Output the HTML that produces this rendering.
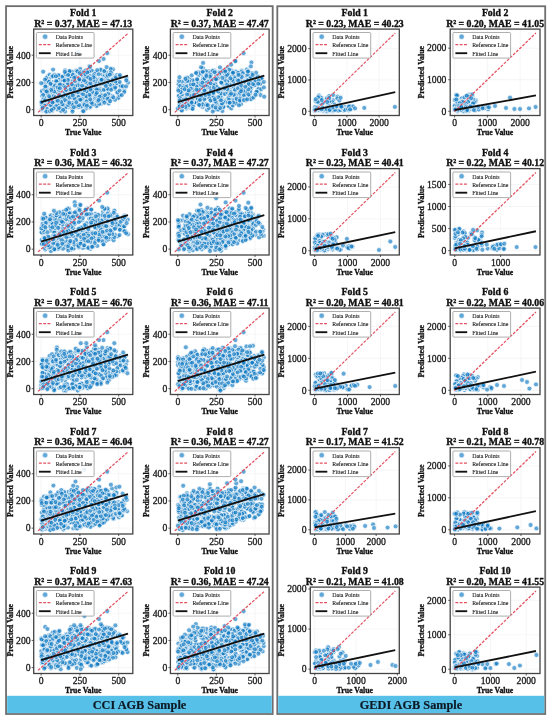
<!DOCTYPE html>
<html><head><meta charset="utf-8"><title>AGB cross-validation</title><style>
html,body{margin:0;padding:0;background:#fff;}
svg{display:block;}
text{font-family:'Liberation Serif', 'Times New Roman', serif;fill:#1a1a1a;}
.t{font-size:9.8px;font-weight:bold;text-anchor:middle;fill:#111;stroke:#111;stroke-width:0.35px;}
.k{font-size:9.7px;text-anchor:middle;fill:#1a1a1a;stroke:#1a1a1a;stroke-width:0.3px;}
.a{font-size:7.8px;font-weight:bold;text-anchor:middle;fill:#111;stroke:#111;stroke-width:0.3px;}
.sc{fill:none;stroke:none;marker-start:url(#m);marker-mid:url(#m);marker-end:url(#m);}
.ke{text-anchor:end;}
.l{font-size:5.9px;fill:#1a1a1a;stroke:#1a1a1a;stroke-width:0.1px;}
.b{font-size:12.3px;font-weight:bold;text-anchor:middle;fill:#0d1a26;stroke:#0d1a26;stroke-width:0.2px;}
</style></head>
<body><svg width="550" height="719" viewBox="0 0 550 719">
<defs><marker id="m" markerUnits="userSpaceOnUse" markerWidth="8" markerHeight="8" refX="4" refY="4" overflow="visible"><circle cx="4" cy="4" r="2.45" fill="#0f79c2" fill-opacity="0.66" stroke="#fff" stroke-opacity="0.9" stroke-width="0.7"/></marker></defs>
<rect width="550" height="719" fill="#fff"/>
<rect x="6.05" y="6.15" width="266.65" height="707.85" fill="none" stroke="#6e6e6e" stroke-width="1.8"/>
<rect x="277.3" y="6.25" width="267.9" height="707.75" fill="none" stroke="#6e6e6e" stroke-width="1.8"/>
<rect x="7.15" y="695.8" width="264.65" height="17.3" fill="#57c0e8"/>
<rect x="278.2" y="695.8" width="266.1" height="17.3" fill="#57c0e8"/>
<text x="139.5" y="709.2" class="b">CCI AGB Sample</text>
<text x="411" y="709.2" class="b">GEDI AGB Sample</text>
<text x="83.25" y="16.3" class="t">Fold 1</text>
<text x="83.25" y="26.5" class="t">R² = 0.37, MAE = 47.13</text>
<clipPath id="cp00"><rect x="33.7" y="29.1" width="99.1" height="86.4"/></clipPath>
<path d="M41.14 29.1V115.5M79.92 29.1V115.5M118.69 29.1V115.5M33.7 109.65H132.8M33.7 82.44H132.8M33.7 55.22H132.8" stroke="#f0f0f0" stroke-width="0.6" fill="none"/>
<g clip-path="url(#cp00)"><path class="sc" d="M86.4 70.3 93.6 101.4 82.0 103.7 58.8 94.1 87.1 88.3 57.7 78.5 65.6 92.5 106.6 74.6 89.1 70.0 111.1 80.4 62.7 107.7 57.6 97.7 99.3 86.2 65.5 76.0 58.9 97.3 95.4 93.6 97.8 105.2 54.5 87.6 101.9 82.7 80.0 86.6 42.7 106.7 66.4 96.6 74.3 85.4 69.0 72.3 102.2 74.0 53.0 82.2 71.0 71.1 111.7 71.8 54.0 74.6 46.3 88.6 68.5 107.0 77.6 93.6 111.3 86.4 42.0 92.0 80.6 87.5 89.7 90.2 41.4 102.3 67.0 90.3 45.8 97.5 90.4 80.9 104.0 76.2 88.4 83.0 74.1 88.1 93.6 86.3 104.9 96.5 118.6 98.1 86.3 96.7 59.2 75.6 67.1 79.5 113.7 76.7 57.2 90.1 57.1 105.8 61.6 108.5 98.3 91.8 86.0 86.0 112.7 96.3 57.6 109.4 75.3 85.7 80.5 107.0 65.0 97.3 69.2 90.0 95.6 97.9 78.6 70.7 47.8 76.3 49.7 74.8 46.9 87.2 102.6 74.8 76.1 90.8 84.8 71.3 62.2 109.5 101.8 96.1 57.9 93.1 99.8 79.3 105.5 86.5 78.8 84.1 95.0 73.3 87.1 72.5 98.5 95.0 52.6 106.2 102.6 102.3 71.3 106.5 77.2 85.3 65.1 70.4 81.4 106.2 79.4 70.8 50.5 93.7 90.4 71.2 60.2 98.8 74.4 78.3 110.8 97.5 70.3 76.1 54.4 93.9 98.2 95.4 63.0 108.9 56.1 80.7 76.7 102.3 82.1 75.0 52.9 85.9 88.7 98.7 58.9 90.9 108.7 103.6 88.6 96.2 96.3 72.8 47.1 81.4 124.2 90.4 58.5 93.3 65.8 85.8 72.7 109.5 79.6 95.7 77.7 93.4 45.4 103.2 79.1 95.2 56.0 84.6 72.5 85.2 100.2 92.2 100.5 88.6 48.0 94.7 48.5 104.3 89.8 90.3 51.8 76.4 108.1 76.9 84.8 92.5 92.4 87.8 100.1 95.1 98.8 83.2 106.5 85.5 91.8 70.6 81.9 94.4 95.2 95.0 92.1 89.1 52.3 110.8 111.7 74.1 74.4 75.2 87.2 104.2 99.3 82.3 73.8 91.2 73.5 76.1 117.7 92.1 99.6 83.2 54.0 92.8 92.4 93.9 89.7 107.5 89.6 103.2 110.8 85.6 58.2 91.8 47.1 111.3 98.8 98.9 73.7 92.4 76.9 92.6 99.8 88.6 116.8 75.1 102.9 90.1 60.0 85.1 64.4 84.6 71.7 71.6 84.6 101.0 102.6 81.2 67.9 85.1 53.5 90.2 66.3 107.0 57.7 101.0 90.1 96.0 94.3 84.8 88.4 75.3 72.4 81.2 76.8 104.7 105.0 97.5 99.7 81.7 49.7 89.4 59.7 96.5 98.5 90.4 80.9 80.6 56.9 87.5 54.4 106.9 59.5 79.5 81.8 75.4 104.8 74.1 42.0 91.0 60.6 88.8 65.1 101.1 109.0 74.7 81.8 74.5 65.1 96.6 69.4 91.2 95.1 82.7 85.4 96.9 105.6 89.9 76.4 99.1 52.2 96.4 109.6 96.7 94.8 92.3 100.0 70.2 50.2 90.5 44.9 109.4 91.8 101.1 54.7 102.2 106.4 94.7 42.2 95.9 71.9 72.0 58.4 86.9 98.9 90.8 109.9 95.5 101.0 84.0 91.9 104.7 90.1 100.7 86.1 95.9 101.0 103.8 89.0 97.2 91.5 85.9 44.6 107.7 81.6 98.6 62.3 101.9 78.0 99.9 110.2 71.1 45.2 94.0 53.7 105.2 81.4 81.0 44.4 90.0 100.4 96.7 116.5 86.0 94.6 73.8 62.6 105.2 87.4 73.4 52.5 87.9 108.6 96.5 94.8 97.8 81.0 97.9 126.3 78.6 55.4 92.9 63.2 84.9 51.5 85.2 97.3 99.9 58.3 105.0 52.2 76.9 44.0 83.2 87.2 93.2 107.3 84.6 96.9 94.9 105.8 100.6 46.4 88.9 96.2 95.1 73.5 105.2 49.0 98.6 55.5 97.4 64.6 92.3 75.7 96.8 58.5 88.8 45.7 91.6 70.6 86.9 95.7 96.4 117.2 82.8 71.9 104.3 107.4 73.9 47.3 82.2 74.1 87.8 111.2 69.9 42.6 110.4 44.5 97.6 58.3 98.0 86.2 99.0 59.4 82.3 91.8 78.6 86.2 86.5 45.1 109.7 112.6 83.3 109.5 97.7 127.9 82.7 52.3 88.3 100.9 90.5 43.1 108.0 44.0 97.7 45.2 107.9 48.8 79.1 61.2 98.2 89.0 71.6 62.3 76.8 100.0 82.3 58.3 75.3 65.3 107.5 62.1 110.1 107.9 90.2 45.1 86.3 109.3 89.4 119.1 95.0 102.2 83.2 101.1 101.2 70.9 76.3 76.8 104.9 72.1 102.7 95.7 88.5 80.2 69.0 115.7 76.7 52.9 88.6 53.2 84.7 110.0 101.3 112.9 69.3 111.2 81.5 84.0 87.1 42.5 108.3 55.7 101.5 62.7 95.9 104.7 74.3 99.0 89.8 87.8 98.7 119.4 84.3 96.4 106.0 80.9 92.8 106.0 80.1 51.6 91.6 100.8 69.8 66.9 90.8 123.1 86.6 44.2 104.1 52.2 106.0 89.9 96.3 78.2 86.3 85.5 82.2 119.4 76.4 43.2 99.4 104.8 70.7 57.1 81.8 86.3 95.7 120.8 86.2 106.6 72.8 97.8 89.3 70.6 95.4 78.5 97.0 74.1 93.1 77.3 90.0 64.9 81.6 88.2 83.8 114.9 88.8 95.5 81.9 79.4 71.6 80.2 87.5 46.1 101.6 76.4 70.7 63.3 80.0 52.6 85.2 77.9 92.1 41.8 105.0 51.8 100.8 113.0 84.0 86.0 88.1 72.7 95.3 100.8 96.6 56.5 92.0 66.3 90.0 85.8 108.6 73.0 98.1 95.7 94.8 86.9 91.2 47.1 79.7 90.7 101.9 72.8 74.7 116.5 83.1 68.3 102.1 90.5 106.6 56.3 81.2 111.7 98.9 63.2 80.6 82.3 98.8 65.6 97.2 79.1 99.9 118.2 97.8 99.2 103.8 63.0 100.8 53.0 102.6 72.1 90.3 63.5 102.3 53.1 76.1 61.1 110.9 47.8 80.7 88.6 79.6 103.3 100.6 68.0 83.4 68.0 74.6 43.3 94.7 104.3 76.6 50.9 83.5 94.1 104.4 103.9 89.7 47.5 92.9 84.5 77.7 119.6 95.2 110.1 75.4 89.7 75.9 81.0 99.9 78.3 107.0 108.3 93.6 94.8 76.3 106.4 77.1 104.4 102.7 86.6 101.5 86.5 104.4 44.5 89.6 41.8 109.2 52.2 87.9 124.2 92.1 107.7 97.4 86.2 96.3 109.2 99.0 77.4 71.4 62.5 76.8 67.6 100.0 110.7 81.0 53.2 108.6 74.6 98.6 111.3 88.1 92.5 104.0 111.4 82.0 71.9 104.7 102.4 79.0 76.0 87.1 117.3 92.5 97.2 70.2 83.9 111.1 44.6 101.2 86.4 78.4 66.4 72.6 60.3 84.6 41.8 101.6 82.9 72.4 76.4 106.2 84.1 104.3 55.2 87.8 68.1 80.0 109.9 84.7 68.0 105.1 97.8 101.2 108.5 89.4 119.7 81.9 92.7 92.3 86.0 76.3 110.9 73.9 64.6 80.5 46.3 78.1 122.7 86.2 75.7 77.0 46.8 108.7 113.0 81.3 104.2 84.1 65.9 89.8 85.4 74.2 87.3 72.4 101.9 80.0 103.6 80.1 119.9 75.1 101.6 95.4 46.3 111.6 58.2 105.5 56.3 88.3 79.0 105.3 58.0 85.4 62.8 96.8 60.2 107.5 85.6 81.7 56.6 85.4 48.6 100.2 55.3 88.4 58.7 90.9 53.5 89.6 95.9 94.2 89.6 78.3 56.1 106.2 115.4 81.3 110.6 68.8 78.6 81.0 69.7 71.2 62.8 85.4 54.1 86.9 64.8 100.0 55.1 85.5 65.0 111.6 75.0 81.3 45.5 86.7 95.9 79.6 107.4 74.5 58.9 90.1 58.9 108.2 95.7 85.8 65.3 87.4 88.2 77.4 83.1 94.3 45.7 91.0 107.9 75.7 53.6 96.3 93.5 75.4 63.2 109.8 126.3 80.4 54.0 91.5 63.3 104.6 62.2 104.3 48.9 81.8 104.2 71.1 84.4 90.1 55.4 97.1 91.4 85.3 73.8 107.3 90.5 89.6 78.1 85.3 79.6 73.2 65.6 74.1 61.2 101.9 115.7 78.0 83.1 111.2 50.1 98.1 79.2 80.0 94.6 78.3 50.8 105.4 115.1 99.8 50.0 111.2 84.0 80.3 69.5 71.2 79.4 79.2 59.2 87.3 103.7 97.3 57.4 86.7 89.5 94.9 67.7 95.7 58.2 88.9 59.4 85.2 84.6 105.0 96.6 89.5 86.9 105.8 101.9 79.4 57.9 87.4 70.5 89.4 42.7 108.1 91.6 102.8 75.3 86.0 105.2 95.2 41.2 83.2 93.3 80.2 57.8 100.7 49.3 100.9 50.5 83.9 93.5 77.3 69.8 97.5 44.4 105.5 72.8 95.5 107.7 88.7 42.3 108.8 112.4 80.0 113.2 97.3 110.7 72.4 90.4 83.1 60.0 84.4 119.5 90.6 96.8 92.9 76.3 102.2 72.5 111.6 98.8 74.3 41.7 102.5 90.5 79.0 108.2 80.6 79.9 89.4 73.1 86.2 74.2 77.8 58.5 96.2 111.2 89.8 71.8 84.2 115.1 87.5 82.1 85.6 51.3 89.9 49.1 96.2 80.3 99.6 52.4 102.5 42.7 107.7 109.8 74.6 126.1 86.4 100.1 98.8 53.6 108.4 107.3 82.8 99.6 96.6 98.6 100.0 59.9 88.2 59.3 95.0 107.5 98.8 45.0 79.6 69.3 102.8 110.0 101.1 55.9 76.3 74.3 88.9 68.1 74.9 45.0 100.3 105.9 86.0 101.4 79.9 64.9 71.9 51.6 109.9 46.8 91.5 90.3 99.4 121.8 95.1 89.5 66.1 103.6 58.9 90.0 66.9 43.2 71.7 77.6 52.3 106.6 67.1 53.1 69.6 107.2 53.2 99.0 61.1"/></g>
<line x1="38.04" y1="112.37" x2="127.99" y2="33.45" stroke="#e4505f" stroke-width="1.25" stroke-dasharray="2.9,1.4"/>
<line x1="41.14" y1="102.03" x2="127.99" y2="75.51" stroke="#111" stroke-width="1.85"/>
<rect x="33.7" y="29.1" width="99.1" height="86.4" fill="none" stroke="#444" stroke-width="1.3"/>
<path d="M41.14 115.5v2M79.92 115.5v2M118.69 115.5v2M33.7 109.65h-2M33.7 82.44h-2M33.7 55.22h-2" stroke="#333" stroke-width="0.8"/>
<text x="41.14" y="126" class="k">0</text>
<text x="79.92" y="126" class="k">250</text>
<text x="118.69" y="126" class="k">500</text>
<text x="30.6" y="112.95" class="k ke">0</text>
<text x="30.6" y="85.74" class="k ke">200</text>
<text x="30.6" y="58.52" class="k ke">400</text>
<text x="83.25" y="135" class="a">True Value</text>
<text x="12.7" y="72.3" class="a" transform="rotate(-90 12.7 72.3)">Predicted Value</text>
<rect x="36.4" y="32.5" width="57.7" height="25.6" rx="1" fill="#fff" fill-opacity="0.85" stroke="#8c8c8c" stroke-width="0.7"/>
<circle cx="45.1" cy="36.7" r="2.6" fill="#0f79c2" fill-opacity="0.66" stroke="#fff" stroke-width="0.5"/>
<line x1="38.9" y1="44.7" x2="50.7" y2="44.7" stroke="#e4505f" stroke-width="1.25" stroke-dasharray="2.9,1.4"/>
<line x1="38.9" y1="53.2" x2="50.7" y2="53.2" stroke="#111" stroke-width="1.85"/>
<text x="55.7" y="39" class="l">Data Points</text>
<text x="55.7" y="47.25" class="l">Reference Line</text>
<text x="55.7" y="55.5" class="l">Fitted Line</text>
<text x="354.8" y="16.3" class="t">Fold 1</text>
<text x="354.8" y="26.5" class="t">R² = 0.23, MAE = 40.23</text>
<clipPath id="cp20"><rect x="310.3" y="29.1" width="89" height="86.4"/></clipPath>
<path d="M314.67 29.1V115.5M346.9 29.1V115.5M379.14 29.1V115.5M310.3 111.26H399.3M310.3 79.97H399.3M310.3 48.67H399.3" stroke="#f0f0f0" stroke-width="0.6" fill="none"/>
<g clip-path="url(#cp20)"><path class="sc" d="M315.8 109.1 316.4 108.2 326.4 111.2 330.8 111.1 320.8 103.0 333.1 95.1 333.1 100.3 320.2 100.2 333.1 111.2 338.1 110.5 328.3 104.2 319.1 100.9 334.1 110.2 329.2 100.5 315.7 107.8 318.7 110.2 343.6 110.5 340.6 108.3 332.3 102.1 319.2 105.2 319.5 110.6 337.7 107.7 321.1 105.5 334.7 104.5 323.2 111.0 326.6 99.3 319.9 110.2 314.7 110.3 327.1 98.1 321.6 104.4 318.8 110.1 322.1 107.1 326.1 108.9 325.4 109.0 323.4 110.2 315.8 101.2 327.7 110.4 337.7 105.7 315.9 101.4 338.2 110.5 337.4 96.6 327.9 109.8 317.0 101.8 318.1 101.8 329.4 110.2 329.5 101.1 323.1 102.8 319.0 95.4 319.3 96.6 321.3 97.9 335.0 106.9 329.2 96.1 315.9 110.5 329.2 98.0 327.2 107.6 318.2 97.3 328.8 110.1 315.7 99.3 320.6 109.8 321.7 100.0 337.4 98.4 341.4 105.2 339.4 100.6 327.2 111.2 332.9 109.7 331.7 108.5 327.1 101.9 340.4 110.1 317.7 107.7 343.2 107.0 340.6 97.7 317.5 109.4 325.0 108.6 329.6 110.2 333.2 106.8 321.4 107.7 344.0 109.6 351.1 106.3 344.6 107.0 350.0 106.2 322.5 109.1 333.2 110.2 340.6 106.8 343.8 108.4 330.0 109.8 318.5 109.7 315.8 108.8 348.6 110.3 350.6 109.3 329.1 107.5 314.7 110.7 335.0 109.9 336.6 106.4 315.1 107.2 319.7 108.5 344.9 109.9 341.7 107.7 347.9 108.8 328.8 110.3 332.5 107.7 341.7 106.9 353.0 106.4 324.0 109.5 327.0 109.5 322.4 107.6 321.6 109.3 329.7 110.0 348.9 106.5 314.7 109.4 341.2 106.5 316.7 108.3 315.3 110.1 364.3 107.9 394.9 106.9 355.0 108.4 350.1 109.4"/></g>
<line x1="314.35" y1="111.57" x2="395.25" y2="33.03" stroke="#e4505f" stroke-width="1.25" stroke-dasharray="2.9,1.4"/>
<line x1="314.67" y1="109.85" x2="395.25" y2="92.09" stroke="#111" stroke-width="1.85"/>
<rect x="310.3" y="29.1" width="89" height="86.4" fill="none" stroke="#444" stroke-width="1.3"/>
<path d="M314.67 115.5v2M346.9 115.5v2M379.14 115.5v2M310.3 111.26h-2M310.3 79.97h-2M310.3 48.67h-2" stroke="#333" stroke-width="0.8"/>
<text x="314.67" y="126" class="k">0</text>
<text x="346.9" y="126" class="k">1000</text>
<text x="379.14" y="126" class="k">2000</text>
<text x="306.5" y="114.56" class="k ke">0</text>
<text x="306.5" y="83.27" class="k ke">1000</text>
<text x="306.5" y="51.97" class="k ke">2000</text>
<text x="354.8" y="135" class="a">True Value</text>
<text x="284.1" y="72.3" class="a" transform="rotate(-90 284.1 72.3)">Predicted Value</text>
<rect x="313" y="32.5" width="57.7" height="25.6" rx="1" fill="#fff" fill-opacity="0.85" stroke="#8c8c8c" stroke-width="0.7"/>
<circle cx="321.7" cy="36.7" r="2.6" fill="#0f79c2" fill-opacity="0.66" stroke="#fff" stroke-width="0.5"/>
<line x1="315.5" y1="44.7" x2="327.3" y2="44.7" stroke="#e4505f" stroke-width="1.25" stroke-dasharray="2.9,1.4"/>
<line x1="315.5" y1="53.2" x2="327.3" y2="53.2" stroke="#111" stroke-width="1.85"/>
<text x="332.3" y="39" class="l">Data Points</text>
<text x="332.3" y="47.25" class="l">Reference Line</text>
<text x="332.3" y="55.5" class="l">Fitted Line</text>
<text x="219.75" y="16.3" class="t">Fold 2</text>
<text x="219.75" y="26.5" class="t">R² = 0.37, MAE = 47.47</text>
<clipPath id="cp10"><rect x="170.4" y="29.1" width="98.7" height="86.4"/></clipPath>
<path d="M177.81 29.1V115.5M216.43 29.1V115.5M255.04 29.1V115.5M170.4 109.65H269.1M170.4 82.44H269.1M170.4 55.22H269.1" stroke="#f0f0f0" stroke-width="0.6" fill="none"/>
<g clip-path="url(#cp10)"><path class="sc" d="M184.0 97.6 233.4 79.7 194.8 91.4 228.7 93.2 216.8 77.8 194.9 84.6 208.8 71.4 181.5 110.1 248.4 84.0 219.8 91.0 247.8 98.7 226.2 99.8 249.8 79.7 230.2 88.5 197.6 99.2 250.1 90.1 206.9 81.9 232.7 75.5 232.4 77.9 240.3 95.4 213.6 87.8 242.7 93.4 241.9 96.7 189.4 103.3 189.0 94.2 216.3 90.0 194.0 91.2 208.6 73.7 195.3 90.6 245.8 100.5 231.7 85.6 258.1 83.0 242.9 98.9 230.4 92.2 211.1 81.2 185.5 81.7 231.3 70.5 214.3 109.9 199.9 95.1 257.5 89.6 207.1 109.9 213.2 95.2 249.8 79.5 228.2 106.1 192.8 80.9 232.0 78.4 237.5 79.7 196.9 81.6 196.6 86.6 239.6 75.6 232.8 97.3 249.6 73.3 180.1 108.5 187.7 85.5 186.3 108.5 246.5 78.9 243.4 83.1 260.9 82.8 258.9 92.1 241.0 85.4 227.5 73.6 233.2 91.7 245.2 96.4 201.8 93.4 204.9 98.2 250.2 76.3 246.6 72.8 234.8 72.0 238.2 102.1 212.8 107.4 244.4 91.3 220.7 107.4 260.5 78.6 255.6 81.0 219.1 72.4 189.7 96.5 202.7 107.0 187.9 98.8 247.7 88.0 179.1 106.6 235.6 93.6 193.3 104.3 192.8 87.2 249.3 88.5 255.1 76.9 209.7 96.1 201.8 98.4 185.8 99.3 192.2 95.2 229.9 106.2 222.6 106.1 217.2 101.8 186.1 94.5 217.7 89.8 227.4 90.9 197.5 83.2 208.4 85.0 226.1 102.4 237.7 94.4 220.1 75.2 200.0 96.0 227.2 90.3 189.4 102.4 260.3 83.8 192.1 83.4 197.9 72.2 182.9 103.0 217.7 87.9 248.1 94.1 209.3 79.9 237.4 102.2 215.8 79.9 211.4 89.9 241.2 73.3 249.7 98.8 243.8 88.2 220.2 72.8 203.3 102.6 221.6 98.0 178.9 88.2 218.0 99.8 202.9 68.1 212.6 96.4 210.3 94.8 208.7 93.7 222.4 90.3 190.1 79.5 217.0 109.4 224.7 90.0 233.3 84.3 250.1 93.5 235.3 99.1 227.9 100.3 214.1 70.5 232.8 102.5 183.6 86.1 228.5 80.6 235.7 71.8 177.9 108.6 198.9 97.3 179.6 92.1 215.2 86.1 222.4 111.0 225.7 70.0 242.1 80.9 212.1 97.9 230.6 94.0 198.6 89.1 239.3 87.7 214.9 86.3 211.5 79.4 196.1 97.3 235.7 90.0 194.1 102.2 236.1 86.2 192.9 97.6 215.1 71.8 185.4 78.2 232.0 81.5 222.8 105.8 182.3 106.0 224.5 76.3 209.0 106.1 227.5 91.1 187.9 80.5 248.6 72.1 179.8 90.2 194.5 85.0 250.9 88.9 224.1 82.6 235.3 74.5 223.4 86.1 233.8 86.7 227.2 81.5 230.4 75.3 209.3 83.9 235.4 74.7 183.2 107.1 204.4 78.0 191.0 84.7 211.1 97.7 250.3 78.0 229.7 76.0 225.7 93.4 224.8 74.9 181.4 110.0 217.7 109.3 192.9 80.4 203.1 77.7 234.3 104.0 225.5 72.6 218.0 101.8 190.3 90.6 189.4 97.4 247.7 86.9 252.9 86.1 220.4 107.4 187.9 101.9 222.0 90.6 236.5 100.5 238.7 75.2 206.1 73.4 227.5 73.8 197.3 99.8 211.4 89.6 223.0 81.2 193.9 88.7 189.8 107.5 248.2 94.6 207.6 86.5 193.5 92.3 214.1 101.4 215.8 103.9 182.6 105.4 225.1 82.8 256.9 91.5 217.3 75.8 242.4 92.1 191.0 95.3 197.8 99.0 227.8 91.2 254.8 95.4 208.2 104.8 184.3 97.7 244.3 95.9 231.7 103.2 213.9 91.7 208.9 73.0 261.1 79.1 203.9 93.1 223.4 106.3 238.9 72.5 238.6 87.9 192.5 108.5 220.6 97.7 192.1 95.5 246.9 76.3 213.3 86.9 216.6 87.8 252.1 97.8 237.7 89.8 201.0 82.0 233.8 73.4 208.8 108.0 208.5 85.2 215.5 89.5 182.4 108.4 248.8 73.7 192.0 85.0 194.9 94.0 215.4 84.2 236.8 83.6 261.7 78.4 218.1 105.5 246.1 98.3 181.9 99.3 246.8 80.2 230.1 76.6 228.7 94.7 241.5 97.0 232.7 101.5 196.7 102.9 222.7 88.6 198.8 101.5 224.7 79.9 223.0 84.6 223.8 72.5 201.3 73.9 189.9 91.9 213.5 85.0 179.2 95.1 205.3 72.3 247.2 80.8 215.6 109.2 236.9 93.1 252.4 73.4 201.1 106.0 234.5 96.5 181.7 98.8 229.5 75.6 229.0 106.4 258.7 88.7 209.5 87.7 238.9 82.2 180.0 99.3 241.9 87.8 204.6 91.6 220.3 93.7 251.3 81.3 214.4 98.2 181.9 110.5 231.7 75.7 187.5 97.7 260.6 95.1 240.0 97.7 239.2 92.4 189.9 105.8 245.5 100.3 231.3 108.4 241.8 70.8 187.1 105.5 183.1 86.2 197.6 92.5 232.2 99.8 224.9 101.6 179.5 102.0 238.6 76.6 196.2 72.7 205.5 94.6 258.0 76.5 230.0 98.0 200.7 99.7 240.9 102.3 239.9 93.9 178.7 96.1 181.9 97.3 250.0 91.5 227.5 67.8 235.7 94.7 222.2 83.1 255.2 81.5 191.9 86.3 178.6 84.2 187.3 80.0 187.2 89.4 222.2 103.9 212.0 100.3 239.8 88.2 221.1 101.1 206.0 71.2 240.9 104.3 211.8 96.6 206.5 104.0 232.5 78.4 214.0 97.2 199.6 105.4 198.3 75.6 205.4 77.4 187.3 96.0 228.6 72.6 245.3 99.7 223.3 102.2 229.2 69.7 220.5 96.2 236.9 82.6 248.4 86.2 222.6 71.1 242.8 72.8 197.6 92.9 217.0 87.1 241.5 74.2 205.7 88.8 197.8 90.2 249.6 96.9 234.2 77.1 225.5 70.6 221.0 93.5 252.2 75.9 192.5 98.9 253.4 84.8 231.8 104.3 217.0 90.3 205.5 91.7 227.9 88.1 227.8 74.0 216.1 75.9 181.8 94.7 225.8 76.4 234.8 77.0 251.0 99.3 251.2 77.3 239.5 89.8 183.4 99.1 241.6 71.9 213.7 88.1 182.5 99.6 261.2 89.2 188.9 94.3 239.9 79.8 254.9 85.1 182.5 91.0 246.9 75.3 185.9 107.5 242.7 73.3 201.2 86.5 180.2 86.0 234.2 84.5 186.9 100.3 250.5 87.6 196.6 87.2 181.9 81.6 183.1 87.6 248.0 80.1 212.9 95.8 233.4 81.3 224.7 94.0 191.0 105.5 194.5 102.5 180.6 92.0 202.5 104.5 188.5 93.8 264.2 96.7 230.5 92.6 237.9 75.0 209.6 76.7 227.5 92.6 182.0 101.7 215.6 104.3 216.3 77.9 192.3 101.1 239.3 83.7 246.9 69.5 248.6 83.1 233.7 103.0 217.9 78.4 230.1 94.1 181.5 107.2 194.5 84.6 221.1 82.1 207.9 95.7 230.5 92.1 189.7 79.8 228.8 97.9 237.5 79.8 204.8 89.4 251.6 77.7 239.4 98.7 212.0 92.5 191.7 75.4 216.1 102.5 207.2 85.7 225.1 89.5 205.6 85.5 234.9 90.0 202.6 82.2 246.9 92.6 234.4 94.2 256.2 92.3 206.1 105.2 250.6 82.9 192.9 96.0 212.5 70.9 186.9 104.0 232.8 105.6 238.3 83.8 241.9 90.4 185.9 98.2 233.0 73.1 191.9 100.1 189.1 81.6 212.8 79.7 251.9 73.5 179.9 98.1 207.9 82.1 200.3 73.0 232.3 79.8 193.1 106.5 179.0 80.8 242.4 77.0 253.0 84.1 196.7 86.5 209.4 98.2 202.3 93.1 218.3 97.2 188.8 92.0 225.4 88.9 257.3 92.2 241.5 79.6 221.3 82.7 232.7 105.2 181.7 89.7 210.8 75.0 190.3 95.3 239.8 101.3 211.1 91.0 212.8 106.0 263.8 82.0 197.2 79.1 223.4 107.0 201.0 84.8 232.6 94.8 191.0 84.6 184.0 99.6 203.0 72.5 258.6 80.4 250.4 76.9 186.2 86.8 191.7 102.0 238.0 88.2 187.5 77.7 238.2 72.9 179.5 77.2 213.5 92.6 204.0 93.4 227.2 89.2 240.5 75.1 247.1 91.8 233.7 94.8 199.3 95.8 187.2 80.9 221.4 105.3 248.6 84.2 228.5 98.0 210.5 100.6 235.9 103.3 230.0 85.3 245.5 92.2 247.9 71.8 179.7 104.9 218.2 91.6 248.2 89.4 236.6 98.8 242.8 89.6 218.2 109.6 193.3 84.4 180.7 92.1 239.8 100.4 199.3 90.6 247.7 74.2 201.3 96.9 243.9 95.0 243.8 100.0 185.1 104.9 179.6 106.5 204.7 81.6 253.4 97.6 263.9 87.4 256.6 91.6 227.0 74.8 228.9 99.9 243.3 90.8 219.3 88.9 227.0 84.9 204.3 99.3 239.9 79.5 213.5 93.5 199.1 104.8 224.5 88.1 206.5 74.9 228.0 102.5 190.7 88.7 186.9 90.7 185.5 78.9 239.9 92.7 199.8 99.8 196.1 73.1 188.3 92.5 205.4 95.0 215.4 101.2 233.0 102.5 188.4 105.3 178.3 90.5 258.2 83.7 256.1 72.8 244.4 81.6 230.4 78.3 184.7 89.3 203.4 86.4 202.7 71.6 203.2 79.6 233.2 74.1 241.6 76.9 225.2 71.5 233.3 72.4 209.9 76.5 248.3 70.9 214.7 99.3 204.6 78.3 241.3 82.4 179.8 100.4 202.4 82.7 204.4 90.6 193.9 94.9 222.0 103.4 185.4 106.8 182.5 106.3 247.9 71.6 198.8 89.6 255.6 94.8 238.2 80.6 214.6 72.3 241.4 89.2 222.4 77.9 241.3 85.6 230.0 94.9 221.0 100.2 187.2 94.4 238.9 105.3 241.0 91.2 247.1 99.4 229.9 103.1 229.6 102.6 248.4 94.5 245.3 86.7 186.1 99.4 213.1 92.8 197.1 79.5 188.7 90.4 210.5 83.3 238.6 74.9 196.5 89.7 192.6 108.9 212.7 111.6 191.6 102.8 206.4 76.0 209.1 94.5 252.7 74.9 215.7 107.5 232.9 72.7 207.6 105.1 220.2 108.1 231.1 93.7 215.3 79.3 216.2 79.2 220.0 67.4 251.4 62.4 201.1 67.3 235.2 61.0 250.8 66.4 203.1 62.9 231.1 64.7 243.6 53.2 235.4 61.1"/></g>
<line x1="174.72" y1="112.37" x2="264.31" y2="33.45" stroke="#e4505f" stroke-width="1.25" stroke-dasharray="2.9,1.4"/>
<line x1="177.81" y1="102.03" x2="264.31" y2="75.51" stroke="#111" stroke-width="1.85"/>
<rect x="170.4" y="29.1" width="98.7" height="86.4" fill="none" stroke="#444" stroke-width="1.3"/>
<path d="M177.81 115.5v2M216.43 115.5v2M255.04 115.5v2M170.4 109.65h-2M170.4 82.44h-2M170.4 55.22h-2" stroke="#333" stroke-width="0.8"/>
<text x="177.81" y="126" class="k">0</text>
<text x="216.43" y="126" class="k">250</text>
<text x="255.04" y="126" class="k">500</text>
<text x="167.3" y="112.95" class="k ke">0</text>
<text x="167.3" y="85.74" class="k ke">200</text>
<text x="167.3" y="58.52" class="k ke">400</text>
<text x="219.75" y="135" class="a">True Value</text>
<text x="149.4" y="72.3" class="a" transform="rotate(-90 149.4 72.3)">Predicted Value</text>
<rect x="173.1" y="32.5" width="57.7" height="25.6" rx="1" fill="#fff" fill-opacity="0.85" stroke="#8c8c8c" stroke-width="0.7"/>
<circle cx="181.8" cy="36.7" r="2.6" fill="#0f79c2" fill-opacity="0.66" stroke="#fff" stroke-width="0.5"/>
<line x1="175.6" y1="44.7" x2="187.4" y2="44.7" stroke="#e4505f" stroke-width="1.25" stroke-dasharray="2.9,1.4"/>
<line x1="175.6" y1="53.2" x2="187.4" y2="53.2" stroke="#111" stroke-width="1.85"/>
<text x="192.4" y="39" class="l">Data Points</text>
<text x="192.4" y="47.25" class="l">Reference Line</text>
<text x="192.4" y="55.5" class="l">Fitted Line</text>
<text x="495.1" y="16.3" class="t">Fold 2</text>
<text x="495.1" y="26.5" class="t">R² = 0.20, MAE = 41.05</text>
<clipPath id="cp30"><rect x="450.2" y="29.1" width="89.8" height="86.4"/></clipPath>
<path d="M454.61 29.1V115.5M487.4 29.1V115.5M520.18 29.1V115.5M450.2 111.26H540M450.2 79.71H540M450.2 48.17H540" stroke="#f0f0f0" stroke-width="0.6" fill="none"/>
<g clip-path="url(#cp30)"><path class="sc" d="M472.0 108.1 461.6 98.4 467.9 105.3 468.8 94.8 467.8 96.2 460.5 108.9 456.7 95.3 472.2 96.6 462.3 101.2 465.9 103.9 469.4 98.2 472.7 102.7 461.1 110.3 460.7 101.6 462.5 110.5 456.2 94.9 458.1 109.9 461.1 102.3 457.5 109.0 457.4 111.3 454.8 105.1 461.5 110.6 463.1 109.6 469.5 99.5 454.6 110.0 468.1 105.0 471.9 103.5 463.3 111.2 472.3 102.9 466.7 96.2 464.3 104.0 464.5 97.4 459.7 103.0 468.1 101.8 459.6 105.2 466.2 111.0 469.7 99.3 475.7 100.5 454.8 106.4 468.7 107.3 464.8 106.5 464.5 107.8 457.1 95.4 472.7 107.4 475.3 101.9 475.4 110.2 468.1 101.9 468.0 107.2 473.3 99.6 454.8 109.4 469.7 106.3 457.3 100.0 468.5 111.1 474.1 102.4 467.7 109.1 474.9 107.8 472.1 94.4 457.1 103.4 464.0 111.2 459.9 108.7 462.7 101.9 473.0 103.5 469.1 96.6 471.1 98.0 471.3 109.1 457.1 102.3 466.1 103.9 454.7 99.9 456.3 99.4 465.1 105.5 466.8 95.6 459.7 103.3 455.1 106.9 456.5 108.1 465.2 109.8 458.3 106.9 468.4 110.0 454.7 105.9 488.1 109.2 457.0 106.2 459.2 107.4 467.6 107.1 457.2 109.7 454.9 108.8 456.4 109.5 455.7 108.5 466.7 110.4 458.1 109.8 478.9 109.6 465.1 107.0 485.9 106.3 462.2 108.4 472.4 107.2 459.2 105.9 461.5 109.9 470.6 106.4 463.5 109.3 473.9 110.1 485.7 106.9 466.3 110.7 484.5 108.1 463.9 108.0 478.4 106.7 487.6 106.9 482.7 107.1 467.3 110.0 461.2 106.5 482.6 108.4 495.0 106.0 455.1 109.7 461.3 107.0 489.0 107.3 506.0 108.0 510.0 97.6 514.4 109.0 520.0 109.0 529.0 108.4 535.6 107.0"/></g>
<line x1="454.28" y1="111.57" x2="535.92" y2="33.03" stroke="#e4505f" stroke-width="1.25" stroke-dasharray="2.9,1.4"/>
<line x1="454.61" y1="110" x2="535.92" y2="95.44" stroke="#111" stroke-width="1.85"/>
<rect x="450.2" y="29.1" width="89.8" height="86.4" fill="none" stroke="#444" stroke-width="1.3"/>
<path d="M454.61 115.5v2M487.4 115.5v2M520.18 115.5v2M450.2 111.26h-2M450.2 79.71h-2M450.2 48.17h-2" stroke="#333" stroke-width="0.8"/>
<text x="454.61" y="126" class="k">0</text>
<text x="487.4" y="126" class="k">1000</text>
<text x="520.18" y="126" class="k">2000</text>
<text x="446.4" y="114.56" class="k ke">0</text>
<text x="446.4" y="83.01" class="k ke">1000</text>
<text x="446.4" y="51.47" class="k ke">2000</text>
<text x="495.1" y="135" class="a">True Value</text>
<text x="424" y="72.3" class="a" transform="rotate(-90 424 72.3)">Predicted Value</text>
<rect x="452.9" y="32.5" width="57.7" height="25.6" rx="1" fill="#fff" fill-opacity="0.85" stroke="#8c8c8c" stroke-width="0.7"/>
<circle cx="461.6" cy="36.7" r="2.6" fill="#0f79c2" fill-opacity="0.66" stroke="#fff" stroke-width="0.5"/>
<line x1="455.4" y1="44.7" x2="467.2" y2="44.7" stroke="#e4505f" stroke-width="1.25" stroke-dasharray="2.9,1.4"/>
<line x1="455.4" y1="53.2" x2="467.2" y2="53.2" stroke="#111" stroke-width="1.85"/>
<text x="472.2" y="39" class="l">Data Points</text>
<text x="472.2" y="47.25" class="l">Reference Line</text>
<text x="472.2" y="55.5" class="l">Fitted Line</text>
<text x="83.25" y="155.8" class="t">Fold 3</text>
<text x="83.25" y="166" class="t">R² = 0.36, MAE = 46.32</text>
<clipPath id="cp01"><rect x="33.7" y="168.6" width="99.1" height="86.4"/></clipPath>
<path d="M41.14 168.6V255M79.92 168.6V255M118.69 168.6V255M33.7 249.15H132.8M33.7 221.94H132.8M33.7 194.72H132.8" stroke="#f0f0f0" stroke-width="0.6" fill="none"/>
<g clip-path="url(#cp01)"><path class="sc" d="M79.0 244.5 92.0 225.6 119.1 225.2 85.6 247.3 61.4 223.6 114.4 223.8 97.4 220.5 91.9 240.2 90.3 248.8 107.0 224.4 81.5 230.5 70.5 230.0 86.8 236.7 93.2 232.4 57.1 219.0 87.4 228.4 123.7 226.0 86.6 240.1 79.1 208.7 127.7 219.7 66.6 241.7 102.9 221.8 68.3 232.2 95.1 213.9 41.7 228.2 58.9 230.5 58.5 237.8 64.7 216.8 79.6 229.6 94.1 219.8 79.8 215.5 50.9 215.1 103.1 239.7 67.5 243.4 125.1 220.3 100.4 220.3 81.9 240.0 82.9 247.9 89.6 246.9 60.0 225.4 101.7 220.4 117.8 236.3 53.5 230.5 85.2 230.3 105.9 225.3 67.8 242.0 52.5 231.0 103.0 211.9 116.5 215.3 103.2 235.5 60.0 214.1 62.6 238.9 101.8 234.7 63.4 233.7 120.1 225.6 73.1 230.3 58.0 243.0 42.4 219.2 49.5 220.5 67.9 228.2 46.2 236.2 68.7 246.2 97.2 217.8 94.2 216.2 82.0 220.3 102.4 238.2 105.4 225.2 123.2 216.7 53.8 229.6 108.2 231.7 80.7 216.5 108.9 235.1 90.7 241.9 55.3 231.5 107.2 231.8 55.5 236.5 47.4 236.6 95.0 217.2 69.1 220.7 72.5 214.2 61.8 232.7 116.0 220.5 97.3 245.9 42.5 231.4 68.1 246.7 87.5 208.4 114.2 225.8 127.9 234.3 46.5 239.4 99.0 215.1 60.4 246.7 107.1 234.7 44.9 240.4 104.7 233.8 59.7 239.0 48.0 220.9 47.9 220.9 87.5 213.0 42.7 229.8 106.2 240.2 66.2 247.4 111.3 223.0 60.7 225.2 83.3 241.1 73.5 228.3 96.9 226.5 99.6 234.0 79.7 216.6 112.2 225.4 44.4 225.1 71.4 249.5 67.1 237.1 124.5 215.8 49.3 224.3 85.8 212.3 52.2 218.8 54.2 239.6 104.2 227.1 93.8 234.5 88.6 247.3 55.9 241.2 80.5 220.7 53.0 235.8 60.5 218.0 91.9 214.3 81.9 212.6 97.5 219.8 107.0 217.4 76.2 241.0 44.5 229.6 90.8 222.7 91.2 213.1 52.4 249.3 58.8 241.4 107.4 227.8 59.2 238.4 51.0 222.8 91.0 235.3 43.7 237.7 68.4 219.0 59.1 247.0 118.0 224.5 122.1 220.7 85.6 227.5 68.6 245.5 101.2 239.0 74.1 232.5 49.2 239.7 88.2 229.6 106.7 228.3 83.3 227.8 62.4 220.2 42.5 229.9 111.2 235.5 56.8 241.2 54.4 225.9 99.4 224.0 68.3 244.7 48.9 223.0 85.6 227.4 59.1 248.2 59.9 227.9 45.3 223.2 58.2 248.9 55.5 235.4 101.9 237.3 79.8 245.5 42.4 243.5 104.3 231.4 66.9 227.3 96.1 233.0 45.2 249.6 50.6 216.3 85.4 210.1 78.3 233.7 78.4 229.6 96.1 223.1 58.7 244.5 72.6 228.1 111.9 233.4 111.6 222.5 65.8 233.8 53.4 239.1 54.4 231.9 54.4 249.4 79.7 242.8 87.2 227.5 54.5 214.9 115.5 222.7 59.1 231.2 89.6 232.2 100.0 238.9 87.6 232.9 41.9 244.0 87.6 225.4 83.9 240.3 50.9 251.1 82.6 228.4 89.3 218.7 42.2 233.1 87.5 209.0 103.3 225.4 59.0 218.8 107.9 236.1 98.3 232.2 83.5 245.3 89.7 226.5 90.5 224.0 91.0 217.5 71.6 216.5 105.9 239.3 63.6 211.5 64.6 245.2 46.5 246.7 57.6 243.0 92.3 233.0 48.4 240.2 82.9 229.0 70.0 214.3 107.3 218.8 47.7 241.1 69.6 241.6 106.5 226.7 50.8 230.6 46.2 220.7 86.6 223.3 76.0 237.4 59.5 233.6 48.7 237.9 60.8 244.7 44.0 229.1 107.7 219.8 70.4 247.4 74.1 248.6 82.6 233.1 63.6 234.0 115.7 227.2 80.6 231.0 69.4 215.2 94.5 240.3 66.1 213.8 103.4 227.2 51.5 247.1 98.1 217.1 46.6 245.9 81.2 227.5 108.4 235.7 113.5 229.4 93.5 246.2 108.1 210.8 90.6 214.0 58.5 227.5 69.8 227.8 67.3 248.4 69.3 237.4 126.2 232.3 101.4 239.4 85.7 213.4 97.3 234.3 107.2 226.8 54.9 232.2 110.5 238.7 119.5 235.1 88.3 229.1 54.2 249.0 56.2 239.8 81.7 213.9 56.4 234.8 78.8 217.5 124.6 230.6 74.0 244.3 78.8 246.8 102.0 227.1 107.7 216.8 58.8 223.0 123.6 227.6 105.3 214.8 49.0 219.3 61.8 233.0 111.4 237.8 41.7 239.9 71.5 226.0 93.6 234.8 111.4 232.5 67.7 241.0 62.0 228.4 111.3 234.4 41.5 232.2 65.1 230.3 86.1 210.0 83.1 234.7 86.1 233.8 46.3 238.3 68.4 250.4 50.9 221.7 55.4 241.7 73.0 236.0 46.4 223.1 96.1 228.2 51.7 221.8 114.2 219.3 49.0 245.0 75.6 223.1 109.8 229.6 95.2 238.9 109.8 215.1 76.3 211.7 108.9 236.0 88.8 238.3 46.8 246.6 88.3 247.9 69.2 210.3 50.8 228.6 59.7 231.2 113.6 240.3 74.4 218.4 64.5 228.3 50.9 238.3 75.0 244.3 77.1 244.9 107.9 215.2 65.6 234.2 94.8 227.2 103.2 244.1 78.0 230.8 41.9 226.6 60.3 230.4 44.8 247.9 123.6 216.9 105.4 241.0 54.2 232.4 44.1 226.7 113.5 217.9 63.8 225.2 114.7 219.8 62.1 230.7 107.1 230.7 44.0 232.0 44.6 216.5 68.5 233.8 56.2 235.5 81.6 241.3 85.8 214.9 79.6 210.2 59.3 247.9 99.9 232.2 90.9 218.4 52.1 218.1 106.0 215.1 95.5 240.7 101.9 235.9 105.0 238.6 58.4 228.1 43.5 229.3 50.4 226.5 54.4 240.2 81.4 235.4 49.5 220.6 54.8 236.1 44.7 227.5 70.1 240.9 108.0 239.6 108.5 237.5 93.4 237.2 64.8 235.0 53.9 219.7 56.7 245.2 67.9 228.7 85.8 241.5 77.7 216.2 65.7 214.1 59.4 212.3 102.0 235.9 94.2 218.3 102.4 215.4 117.4 216.7 74.3 224.2 62.7 224.8 57.1 226.4 111.7 214.7 70.7 241.0 65.8 227.8 107.7 213.6 54.6 242.5 46.3 246.2 114.4 210.6 124.2 226.3 94.8 243.1 72.6 218.5 100.6 229.0 70.2 232.3 46.0 240.7 61.9 242.6 125.1 231.3 42.8 217.7 73.9 219.3 110.7 214.8 66.8 241.2 120.6 221.8 75.9 245.1 79.2 234.4 119.8 230.0 99.0 237.2 63.7 242.1 45.7 217.6 54.2 235.5 78.0 230.3 107.6 208.4 80.2 243.6 105.6 218.2 52.0 247.5 78.0 235.2 55.4 217.1 43.8 239.0 64.4 221.1 93.2 218.5 63.0 248.7 49.5 240.7 67.3 226.4 54.7 224.5 56.2 220.2 78.9 247.3 54.2 226.2 59.7 223.3 51.1 222.9 71.4 213.5 72.1 221.1 91.5 246.8 68.7 213.4 88.4 235.6 48.3 221.0 126.6 223.2 123.1 218.9 107.4 216.4 72.8 218.3 67.4 227.2 73.6 244.1 54.8 236.3 68.7 224.5 82.8 218.1 78.8 222.1 98.0 214.9 53.5 239.6 93.0 233.5 44.3 228.9 44.7 238.8 68.8 208.6 78.8 228.6 95.4 233.2 64.7 221.0 119.9 229.7 53.2 243.5 73.1 248.5 74.0 222.7 111.8 232.7 92.3 246.8 71.3 248.4 60.3 216.4 60.1 218.3 48.6 248.0 74.2 218.1 114.8 234.8 52.8 223.6 63.1 229.1 55.1 228.2 107.7 221.4 68.4 244.4 69.4 213.2 69.2 217.0 69.3 230.6 72.8 233.1 114.3 237.2 96.1 222.5 66.1 219.1 111.9 231.9 67.6 208.8 54.4 249.2 105.1 236.8 58.8 221.3 112.2 234.1 75.1 244.8 60.4 235.4 75.3 213.5 78.4 243.8 104.4 225.7 71.6 216.8 85.8 209.7 44.3 226.7 100.9 224.7 91.0 209.5 66.2 209.9 76.6 215.1 104.9 215.9 81.1 237.1 42.5 224.0 62.7 219.9 70.4 231.8 111.3 221.2 100.5 237.6 94.1 223.3 71.6 234.5 109.4 234.2 71.5 226.8 66.9 229.9 61.3 220.6 48.4 246.8 97.7 220.2 95.1 219.4 106.1 226.1 63.2 231.0 77.5 245.2 45.3 229.1 76.0 240.0 99.5 234.9 48.2 236.4 115.0 228.7 113.8 212.8 49.8 247.1 102.5 231.9 50.1 220.4 124.3 231.2 98.2 239.0 100.1 240.8 95.2 221.8 52.9 239.4 65.7 233.9 56.6 215.4 86.0 225.7 68.1 246.2 65.5 214.7 100.1 223.0 85.2 240.4 81.0 243.8 68.8 216.9 56.1 225.9 74.9 212.4 78.5 246.0 60.4 246.0 73.5 242.0 55.5 225.5 56.1 222.8 98.7 226.0 43.5 230.0 88.9 214.1 93.1 223.3 68.2 230.0 91.5 238.4 69.8 224.9 56.4 213.0 84.6 225.0 92.7 220.6 124.6 217.0 102.2 241.2 86.9 214.2 67.0 225.3 80.5 243.6 52.4 227.3 66.5 231.7 68.2 226.2 63.2 213.9 50.0 219.2 110.4 215.8 63.0 222.6 108.7 216.2 98.8 239.0 111.5 221.5 43.3 218.8 79.6 217.5 95.9 216.3 48.0 245.3 66.4 237.3 63.5 232.1 61.8 240.3 62.2 243.7 85.7 237.4 104.2 209.3 83.7 234.9 104.6 208.7 69.6 242.7 71.0 217.8 112.6 223.2 84.0 238.7 46.7 242.7 103.5 244.4 126.1 233.3 61.9 221.7 70.3 241.1 73.1 216.6 45.7 222.9 58.7 247.2 41.5 228.4 75.8 231.9 88.1 241.3 91.3 209.6 44.6 238.0 58.1 227.8 98.5 240.5 106.4 237.7 57.6 244.7 43.8 244.1 91.4 224.6 59.7 233.9 43.3 226.1 45.4 227.2 47.5 232.3 84.1 245.3 110.5 230.6 91.1 222.5 102.2 206.9 74.7 202.2 79.9 204.5 75.1 205.5 53.9 210.8 44.2 213.7 80.5 205.1 107.2 192.7 99.0 200.6"/></g>
<line x1="38.04" y1="251.87" x2="127.99" y2="172.95" stroke="#e4505f" stroke-width="1.25" stroke-dasharray="2.9,1.4"/>
<line x1="41.14" y1="241.53" x2="127.99" y2="215.01" stroke="#111" stroke-width="1.85"/>
<rect x="33.7" y="168.6" width="99.1" height="86.4" fill="none" stroke="#444" stroke-width="1.3"/>
<path d="M41.14 255v2M79.92 255v2M118.69 255v2M33.7 249.15h-2M33.7 221.94h-2M33.7 194.72h-2" stroke="#333" stroke-width="0.8"/>
<text x="41.14" y="265.5" class="k">0</text>
<text x="79.92" y="265.5" class="k">250</text>
<text x="118.69" y="265.5" class="k">500</text>
<text x="30.6" y="252.45" class="k ke">0</text>
<text x="30.6" y="225.24" class="k ke">200</text>
<text x="30.6" y="198.02" class="k ke">400</text>
<text x="83.25" y="274.5" class="a">True Value</text>
<text x="12.7" y="211.8" class="a" transform="rotate(-90 12.7 211.8)">Predicted Value</text>
<rect x="36.4" y="172" width="57.7" height="25.6" rx="1" fill="#fff" fill-opacity="0.85" stroke="#8c8c8c" stroke-width="0.7"/>
<circle cx="45.1" cy="176.2" r="2.6" fill="#0f79c2" fill-opacity="0.66" stroke="#fff" stroke-width="0.5"/>
<line x1="38.9" y1="184.2" x2="50.7" y2="184.2" stroke="#e4505f" stroke-width="1.25" stroke-dasharray="2.9,1.4"/>
<line x1="38.9" y1="192.7" x2="50.7" y2="192.7" stroke="#111" stroke-width="1.85"/>
<text x="55.7" y="178.5" class="l">Data Points</text>
<text x="55.7" y="186.75" class="l">Reference Line</text>
<text x="55.7" y="195" class="l">Fitted Line</text>
<text x="354.8" y="155.8" class="t">Fold 3</text>
<text x="354.8" y="166" class="t">R² = 0.23, MAE = 40.41</text>
<clipPath id="cp21"><rect x="310.3" y="168.6" width="89" height="86.4"/></clipPath>
<path d="M314.67 168.6V255M347.56 168.6V255M380.45 168.6V255M310.3 250.75H399.3M310.3 218.82H399.3M310.3 186.9H399.3" stroke="#f0f0f0" stroke-width="0.6" fill="none"/>
<g clip-path="url(#cp21)"><path class="sc" d="M325.6 234.3 327.5 235.3 335.6 242.6 335.8 238.5 326.3 245.7 320.3 240.5 315.9 249.8 323.4 235.2 322.3 234.7 336.6 237.2 319.1 234.4 315.3 238.5 320.8 236.9 315.9 240.8 327.0 250.0 315.1 238.3 318.5 247.7 332.0 236.6 314.7 248.2 325.1 241.4 324.5 250.7 328.5 247.5 315.4 246.3 323.4 242.0 324.8 250.2 318.4 235.6 320.7 246.6 334.1 238.3 329.1 242.5 316.7 243.0 315.7 243.6 325.1 244.2 326.4 248.9 319.2 240.7 333.4 246.3 316.9 237.3 332.6 249.6 316.9 246.2 325.1 249.2 316.8 250.1 325.9 246.7 315.4 238.8 314.9 242.4 317.0 235.5 333.8 246.3 324.7 247.3 321.2 236.4 331.1 247.5 327.6 248.5 334.2 238.2 318.5 249.8 334.7 240.0 318.1 234.7 332.9 243.5 319.7 246.4 317.8 246.2 320.7 249.8 331.2 237.8 314.7 250.1 332.6 238.8 317.3 249.0 328.3 234.1 333.3 244.5 320.0 242.8 316.2 244.8 327.9 248.8 324.4 250.4 330.7 233.6 322.6 244.0 331.5 248.1 315.9 250.4 318.1 236.0 321.9 246.7 347.6 246.4 319.0 247.5 349.5 248.6 349.9 246.2 352.4 246.7 320.0 247.2 348.8 246.3 334.3 247.9 318.7 249.4 327.5 246.9 340.8 249.5 326.9 245.7 325.5 248.2 317.4 246.0 343.0 245.5 317.9 245.8 329.0 247.2 314.7 247.8 327.6 246.9 322.0 248.1 317.1 249.1 315.4 248.8 317.2 248.0 336.5 248.1 347.4 247.4 348.5 248.1 351.4 246.5 328.0 245.4 325.3 245.7 322.2 245.7 322.2 248.9 320.9 247.8 337.9 248.0 339.6 249.9 319.7 248.1 324.7 245.9 337.1 248.6 317.2 250.2 331.9 247.0 346.9 238.9 379.0 250.0 390.3 241.5 395.2 247.0"/></g>
<line x1="314.35" y1="251.07" x2="395.25" y2="172.53" stroke="#e4505f" stroke-width="1.25" stroke-dasharray="2.9,1.4"/>
<line x1="314.67" y1="249" x2="395.25" y2="232.18" stroke="#111" stroke-width="1.85"/>
<rect x="310.3" y="168.6" width="89" height="86.4" fill="none" stroke="#444" stroke-width="1.3"/>
<path d="M314.67 255v2M347.56 255v2M380.45 255v2M310.3 250.75h-2M310.3 218.82h-2M310.3 186.9h-2" stroke="#333" stroke-width="0.8"/>
<text x="314.67" y="265.5" class="k">0</text>
<text x="347.56" y="265.5" class="k">1000</text>
<text x="380.45" y="265.5" class="k">2000</text>
<text x="306.5" y="254.05" class="k ke">0</text>
<text x="306.5" y="222.12" class="k ke">1000</text>
<text x="306.5" y="190.2" class="k ke">2000</text>
<text x="354.8" y="274.5" class="a">True Value</text>
<text x="284.1" y="211.8" class="a" transform="rotate(-90 284.1 211.8)">Predicted Value</text>
<rect x="313" y="172" width="57.7" height="25.6" rx="1" fill="#fff" fill-opacity="0.85" stroke="#8c8c8c" stroke-width="0.7"/>
<circle cx="321.7" cy="176.2" r="2.6" fill="#0f79c2" fill-opacity="0.66" stroke="#fff" stroke-width="0.5"/>
<line x1="315.5" y1="184.2" x2="327.3" y2="184.2" stroke="#e4505f" stroke-width="1.25" stroke-dasharray="2.9,1.4"/>
<line x1="315.5" y1="192.7" x2="327.3" y2="192.7" stroke="#111" stroke-width="1.85"/>
<text x="332.3" y="178.5" class="l">Data Points</text>
<text x="332.3" y="186.75" class="l">Reference Line</text>
<text x="332.3" y="195" class="l">Fitted Line</text>
<text x="219.75" y="155.8" class="t">Fold 4</text>
<text x="219.75" y="166" class="t">R² = 0.37, MAE = 47.27</text>
<clipPath id="cp11"><rect x="170.4" y="168.6" width="98.7" height="86.4"/></clipPath>
<path d="M177.81 168.6V255M216.43 168.6V255M255.04 168.6V255M170.4 249.15H269.1M170.4 221.94H269.1M170.4 194.72H269.1" stroke="#f0f0f0" stroke-width="0.6" fill="none"/>
<g clip-path="url(#cp11)"><path class="sc" d="M210.2 244.9 184.8 219.2 187.6 246.5 192.9 243.7 238.7 225.6 227.6 236.0 215.4 245.9 241.6 230.2 245.6 224.0 182.9 245.2 215.5 230.6 223.3 235.8 202.2 217.3 236.8 233.7 241.6 236.7 230.5 223.0 185.5 232.7 219.8 246.8 187.5 241.0 241.5 230.7 197.1 242.0 212.8 224.4 209.8 223.0 216.2 225.3 211.0 209.3 200.5 241.3 192.2 248.3 189.4 250.7 221.1 231.9 210.0 235.9 182.4 245.0 211.0 247.7 235.5 213.8 205.6 241.5 253.3 221.5 185.1 224.9 230.5 240.0 229.1 241.0 243.4 238.9 246.9 212.9 256.3 218.9 199.3 223.6 222.0 241.8 187.9 236.6 214.8 234.1 192.3 234.5 205.1 243.9 193.7 228.7 184.5 218.2 182.1 246.1 216.4 238.7 207.8 228.4 178.9 233.8 223.4 236.2 225.6 247.9 251.5 234.7 215.7 225.8 209.5 240.2 220.0 243.3 244.7 223.7 209.5 229.3 230.0 224.5 192.9 250.2 191.9 224.9 233.0 217.0 211.7 220.6 236.9 224.4 201.9 217.1 212.7 229.2 239.4 215.3 198.2 246.0 201.8 249.2 242.3 223.4 204.3 245.5 210.2 241.6 204.7 247.6 206.0 212.7 239.0 232.0 219.9 226.6 186.6 223.2 235.6 231.2 249.3 219.3 209.2 234.3 204.7 216.5 193.8 246.9 247.7 225.0 263.3 229.8 208.4 229.6 205.2 211.7 194.4 240.2 235.4 213.1 211.2 212.9 244.4 221.1 186.0 242.1 234.4 237.0 227.0 226.2 204.1 220.5 236.4 224.5 188.6 244.4 222.0 239.5 190.9 231.0 222.1 231.4 207.6 234.0 243.1 232.0 221.8 211.8 198.3 246.7 181.8 220.5 201.5 218.7 248.9 212.6 227.4 240.2 209.8 220.3 206.8 219.9 179.4 233.8 216.1 237.2 192.0 216.7 183.0 215.6 242.7 219.8 248.5 226.3 186.4 221.3 263.7 235.8 248.8 214.3 241.8 214.4 185.1 230.6 250.5 214.4 204.2 213.1 261.8 235.9 218.7 247.3 230.9 243.4 199.5 228.8 200.8 217.1 238.0 219.0 193.3 241.3 198.5 211.3 235.1 215.4 195.9 234.2 197.1 210.7 238.8 217.5 228.8 218.5 227.3 212.2 228.5 244.6 218.2 242.1 204.2 230.8 216.5 223.4 253.0 214.7 236.0 215.0 208.3 213.4 186.4 216.4 191.9 220.2 189.2 232.2 200.4 231.8 234.3 233.7 192.4 226.8 191.2 229.0 197.5 239.8 259.7 223.7 215.2 237.6 241.4 229.6 253.2 230.5 237.9 227.5 237.5 221.6 240.4 216.0 195.7 247.8 223.2 240.6 201.7 214.1 199.4 247.8 250.9 227.3 198.6 226.8 195.2 215.6 242.6 218.5 241.9 233.7 207.9 218.2 207.6 218.1 216.1 237.0 247.3 227.3 199.3 232.3 244.6 238.4 244.1 222.2 218.9 235.4 231.8 227.3 187.5 231.0 221.4 212.1 178.9 225.5 195.4 242.2 221.8 234.4 238.8 240.4 181.0 245.5 250.1 216.0 196.6 239.7 213.4 217.7 210.9 239.0 184.6 240.8 228.4 225.8 255.6 234.7 205.8 231.6 248.3 238.4 178.3 227.2 179.7 233.1 190.1 246.7 259.0 237.4 179.6 240.7 233.6 229.7 257.4 217.2 209.4 248.5 184.8 230.2 190.1 239.3 184.5 240.1 225.1 234.2 207.6 234.7 240.9 223.3 234.7 223.7 226.0 218.3 192.1 230.5 211.2 225.6 209.2 214.9 231.3 233.5 228.7 238.1 178.2 235.4 203.7 231.3 237.2 228.7 180.9 230.0 226.4 244.4 195.2 246.2 250.1 238.6 240.9 215.3 205.0 219.3 198.2 229.6 219.9 229.8 197.9 241.3 184.6 233.7 244.1 239.5 203.4 218.6 232.9 241.6 242.7 226.5 217.1 224.0 196.6 216.7 185.3 243.2 244.5 223.6 220.2 216.2 217.8 229.9 252.6 225.3 203.0 231.5 207.0 232.0 250.5 219.0 206.9 234.4 215.0 215.7 221.1 229.4 219.8 232.1 195.9 219.6 213.8 226.6 188.9 229.8 186.9 220.2 202.5 217.1 214.9 210.7 219.7 212.7 187.0 219.7 218.4 232.4 236.4 220.1 205.3 222.2 235.8 238.7 229.9 214.9 216.2 219.5 262.4 231.6 238.2 219.1 217.9 207.9 256.0 231.6 178.2 239.5 223.8 218.7 199.7 237.5 241.1 212.9 217.6 239.5 249.1 233.9 226.4 213.5 239.1 229.5 260.9 231.7 211.3 246.0 220.5 221.0 211.3 222.8 209.9 242.9 178.9 225.3 207.6 216.9 179.9 220.5 192.9 231.6 184.2 230.3 199.7 216.6 230.8 239.7 231.2 228.9 251.2 218.9 220.1 213.2 211.6 212.7 197.2 219.5 195.0 229.3 225.8 246.2 219.7 235.1 225.6 246.8 187.0 220.6 184.3 228.4 221.6 247.3 230.2 227.8 187.9 241.8 178.3 221.7 200.1 225.5 203.2 212.5 185.8 221.4 224.2 231.1 219.5 229.0 217.9 235.5 250.7 212.3 226.5 236.6 218.0 232.6 178.0 220.1 253.2 223.4 198.2 215.9 215.8 241.4 252.8 234.8 206.9 239.2 219.5 230.1 209.3 241.5 215.0 216.1 186.2 216.8 187.1 217.7 189.6 214.2 183.8 249.6 218.9 217.9 203.6 227.3 243.9 229.7 224.1 217.0 187.5 240.4 235.2 240.7 219.2 242.5 206.2 220.6 242.6 214.2 203.9 244.6 226.8 237.4 213.9 227.9 209.9 231.4 207.4 207.7 237.0 227.0 229.7 208.5 212.8 239.7 207.4 245.5 239.6 219.7 202.9 241.0 210.2 226.4 241.7 232.5 229.2 219.2 198.5 229.9 213.7 232.5 225.6 211.9 244.8 236.9 232.6 244.3 240.5 213.9 196.6 248.0 179.3 239.6 235.3 212.3 249.8 236.9 248.6 210.8 250.4 237.8 232.1 217.1 197.3 234.5 197.1 249.2 246.0 239.1 229.2 211.7 220.6 238.2 230.8 237.3 228.6 242.4 238.1 229.5 260.9 234.0 230.2 231.5 250.4 230.5 208.8 235.5 213.4 218.0 218.7 245.5 248.6 214.0 260.1 231.6 198.7 235.3 212.0 217.5 206.9 239.5 243.1 240.0 210.2 219.3 201.4 210.0 189.8 230.3 237.2 243.5 220.5 244.1 215.0 214.6 219.4 233.2 199.8 243.1 211.0 227.6 188.8 249.1 190.2 224.1 252.1 215.5 252.3 235.8 178.8 226.7 222.6 217.6 178.9 238.3 243.9 232.0 228.9 215.2 240.0 216.7 213.2 219.1 228.5 231.4 250.7 230.9 218.7 220.2 240.7 231.6 249.8 220.6 233.6 219.6 216.9 220.6 203.4 218.0 214.2 243.1 188.3 245.6 212.6 219.1 195.1 232.3 199.1 223.3 223.6 229.7 247.3 209.1 225.6 245.8 201.5 215.2 186.8 216.2 222.4 242.1 198.1 217.3 238.6 210.6 231.9 209.9 246.0 226.0 202.4 228.5 251.6 217.0 201.7 215.2 227.7 224.6 246.5 227.4 255.8 225.2 202.0 218.2 194.4 229.1 202.6 211.8 251.1 216.4 217.1 249.1 178.3 233.8 246.2 227.0 200.3 226.9 236.9 220.0 201.2 218.5 194.1 237.5 224.9 231.1 207.1 243.4 205.6 222.3 203.7 223.6 243.7 229.6 234.1 222.6 231.6 213.0 243.6 236.1 242.8 241.2 222.0 214.4 219.8 222.4 245.0 229.0 189.3 236.6 227.5 219.8 232.3 208.6 227.4 234.5 256.5 221.1 190.1 239.1 189.0 233.3 237.3 226.8 224.3 217.1 245.4 235.1 252.8 228.6 191.7 233.8 221.1 250.8 187.8 222.5 235.6 226.7 234.0 242.1 235.1 237.4 199.6 214.1 245.6 240.0 188.4 233.0 232.7 223.3 224.1 223.5 222.1 230.9 234.6 220.6 242.8 221.5 204.2 243.5 193.4 222.5 197.0 234.4 180.3 240.1 185.7 225.9 215.5 209.8 217.3 246.8 229.6 229.5 221.9 233.8 232.5 232.2 245.6 226.5 187.7 234.7 196.8 223.8 183.3 240.4 262.3 227.0 220.0 245.5 187.8 238.9 245.6 235.9 187.4 236.2 189.6 224.0 210.0 251.1 248.6 228.8 220.1 218.0 241.3 233.3 217.7 245.1 194.3 225.3 193.3 232.2 195.1 233.7 211.5 243.3 214.0 225.9 202.3 239.0 251.4 229.8 198.5 236.4 190.5 248.6 217.3 235.0 184.1 249.0 196.7 216.5 223.4 226.3 217.6 225.9 226.6 212.2 229.1 225.6 240.6 219.7 197.9 227.2 248.3 220.4 226.9 223.6 192.0 224.4 233.9 234.3 234.0 213.6 258.7 215.8 190.0 224.4 244.8 216.7 179.7 241.6 186.4 232.0 194.6 215.4 219.0 243.4 223.6 231.5 226.9 230.3 230.3 235.4 194.1 231.2 234.6 222.3 207.4 216.5 244.4 222.3 204.6 231.0 193.2 216.7 197.2 243.2 189.1 222.4 216.1 213.7 215.0 215.1 213.1 229.6 247.9 230.0 193.9 227.2 178.9 240.5 220.5 248.6 225.4 217.6 189.1 230.0 197.5 237.1 207.0 234.1 184.0 239.3 213.8 241.7 206.1 239.1 241.2 226.3 245.0 216.2 219.6 209.6 215.2 249.9 204.2 218.1 235.9 237.8 243.6 223.4 217.0 243.3 202.2 238.1 241.7 226.7 208.8 227.7 196.3 231.6 248.5 215.6 236.9 226.7 187.6 226.0 187.4 245.2 200.2 247.6 250.4 233.3 220.8 214.6 179.1 235.9 228.2 236.2 189.0 247.5 235.9 229.6 198.8 210.7 216.3 247.5 239.8 235.4 219.4 249.4 202.3 245.8 248.7 227.5 199.5 236.9 258.5 222.7 191.6 219.6 225.4 236.5 245.6 208.0 220.2 235.4 178.8 249.4 248.4 232.0 201.4 231.6 190.5 232.2 205.3 238.1 205.8 246.8 238.9 208.9 213.2 223.4 196.0 229.4 188.8 227.9 239.0 205.9 216.1 198.2 225.7 202.4 251.3 208.6 200.5 204.6 248.3 202.7 251.2 207.8 243.6 192.7 235.4 200.6"/></g>
<line x1="174.72" y1="251.87" x2="264.31" y2="172.95" stroke="#e4505f" stroke-width="1.25" stroke-dasharray="2.9,1.4"/>
<line x1="177.81" y1="241.53" x2="264.31" y2="215.01" stroke="#111" stroke-width="1.85"/>
<rect x="170.4" y="168.6" width="98.7" height="86.4" fill="none" stroke="#444" stroke-width="1.3"/>
<path d="M177.81 255v2M216.43 255v2M255.04 255v2M170.4 249.15h-2M170.4 221.94h-2M170.4 194.72h-2" stroke="#333" stroke-width="0.8"/>
<text x="177.81" y="265.5" class="k">0</text>
<text x="216.43" y="265.5" class="k">250</text>
<text x="255.04" y="265.5" class="k">500</text>
<text x="167.3" y="252.45" class="k ke">0</text>
<text x="167.3" y="225.24" class="k ke">200</text>
<text x="167.3" y="198.02" class="k ke">400</text>
<text x="219.75" y="274.5" class="a">True Value</text>
<text x="149.4" y="211.8" class="a" transform="rotate(-90 149.4 211.8)">Predicted Value</text>
<rect x="173.1" y="172" width="57.7" height="25.6" rx="1" fill="#fff" fill-opacity="0.85" stroke="#8c8c8c" stroke-width="0.7"/>
<circle cx="181.8" cy="176.2" r="2.6" fill="#0f79c2" fill-opacity="0.66" stroke="#fff" stroke-width="0.5"/>
<line x1="175.6" y1="184.2" x2="187.4" y2="184.2" stroke="#e4505f" stroke-width="1.25" stroke-dasharray="2.9,1.4"/>
<line x1="175.6" y1="192.7" x2="187.4" y2="192.7" stroke="#111" stroke-width="1.85"/>
<text x="192.4" y="178.5" class="l">Data Points</text>
<text x="192.4" y="186.75" class="l">Reference Line</text>
<text x="192.4" y="195" class="l">Fitted Line</text>
<text x="495.1" y="155.8" class="t">Fold 4</text>
<text x="495.1" y="166" class="t">R² = 0.22, MAE = 40.12</text>
<clipPath id="cp31"><rect x="450.2" y="168.6" width="89.8" height="86.4"/></clipPath>
<path d="M454.74 168.6V255M500.6 168.6V255M450.2 250.63H540M450.2 228.57H540M450.2 206.5H540M450.2 184.44H540" stroke="#f0f0f0" stroke-width="0.6" fill="none"/>
<g clip-path="url(#cp31)"><path class="sc" d="M466.5 250.3 456.6 250.0 479.6 239.2 470.7 247.0 465.6 242.7 473.1 248.8 454.8 238.0 480.8 241.8 475.3 249.3 459.9 243.1 464.3 233.6 456.3 242.9 477.0 230.4 459.7 240.1 459.0 239.7 458.1 234.2 463.5 231.4 465.3 245.9 458.6 229.0 475.9 241.9 476.2 238.9 460.7 248.1 455.8 230.0 478.2 240.0 458.5 247.1 468.0 237.9 465.0 235.5 464.6 249.0 455.5 236.3 456.2 244.9 455.0 248.0 458.2 242.0 472.3 249.9 474.7 237.4 478.6 239.9 456.0 249.9 456.5 243.4 464.8 233.1 467.2 242.4 462.5 232.5 477.6 246.9 460.7 250.6 470.0 246.6 474.5 240.0 476.9 249.6 454.8 229.9 455.4 245.7 475.3 238.2 473.2 250.2 482.0 232.4 463.5 240.5 458.8 246.1 465.9 248.5 465.4 237.1 467.7 244.7 474.2 245.9 476.0 247.4 476.4 248.2 460.6 241.1 477.6 249.0 463.1 238.3 481.8 234.9 471.1 233.3 459.5 228.9 455.4 233.7 481.6 236.4 458.0 232.3 471.7 234.3 477.3 246.7 473.1 230.0 463.9 249.7 460.8 240.2 456.2 244.7 476.3 248.7 463.6 249.8 497.0 249.8 470.5 249.6 480.8 243.5 493.6 246.1 481.8 245.1 460.1 243.7 482.4 249.8 500.1 245.0 501.3 246.8 461.5 248.6 500.1 244.6 465.2 249.5 499.3 248.4 464.3 248.5 501.5 244.5 503.3 248.8 455.4 249.3 460.1 249.7 469.2 249.9 460.6 249.3 469.6 249.9 498.0 244.4 496.8 245.0 493.8 246.1 487.6 248.6 504.0 249.0 492.4 248.4 492.8 247.0 486.7 244.6 481.4 243.3 463.1 249.6 494.4 248.9 472.9 246.2 500.7 244.2 464.8 248.7 504.3 243.8 464.4 246.0 516.7 247.1 535.5 247.1"/></g>
<line x1="454.28" y1="251.07" x2="535.92" y2="172.53" stroke="#e4505f" stroke-width="1.25" stroke-dasharray="2.9,1.4"/>
<line x1="454.74" y1="248.43" x2="535.92" y2="231.24" stroke="#111" stroke-width="1.85"/>
<rect x="450.2" y="168.6" width="89.8" height="86.4" fill="none" stroke="#444" stroke-width="1.3"/>
<path d="M454.74 255v2M500.6 255v2M450.2 250.63h-2M450.2 228.57h-2M450.2 206.5h-2M450.2 184.44h-2" stroke="#333" stroke-width="0.8"/>
<text x="454.74" y="265.5" class="k">0</text>
<text x="500.6" y="265.5" class="k">1000</text>
<text x="446.4" y="253.93" class="k ke">0</text>
<text x="446.4" y="231.87" class="k ke">500</text>
<text x="446.4" y="209.8" class="k ke">1000</text>
<text x="446.4" y="187.74" class="k ke">1500</text>
<text x="495.1" y="274.5" class="a">True Value</text>
<text x="424" y="211.8" class="a" transform="rotate(-90 424 211.8)">Predicted Value</text>
<rect x="452.9" y="172" width="57.7" height="25.6" rx="1" fill="#fff" fill-opacity="0.85" stroke="#8c8c8c" stroke-width="0.7"/>
<circle cx="461.6" cy="176.2" r="2.6" fill="#0f79c2" fill-opacity="0.66" stroke="#fff" stroke-width="0.5"/>
<line x1="455.4" y1="184.2" x2="467.2" y2="184.2" stroke="#e4505f" stroke-width="1.25" stroke-dasharray="2.9,1.4"/>
<line x1="455.4" y1="192.7" x2="467.2" y2="192.7" stroke="#111" stroke-width="1.85"/>
<text x="472.2" y="178.5" class="l">Data Points</text>
<text x="472.2" y="186.75" class="l">Reference Line</text>
<text x="472.2" y="195" class="l">Fitted Line</text>
<text x="83.25" y="295.3" class="t">Fold 5</text>
<text x="83.25" y="305.5" class="t">R² = 0.37, MAE = 46.76</text>
<clipPath id="cp02"><rect x="33.7" y="308.1" width="99.1" height="86.4"/></clipPath>
<path d="M41.14 308.1V394.5M79.92 308.1V394.5M118.69 308.1V394.5M33.7 388.65H132.8M33.7 361.44H132.8M33.7 334.22H132.8" stroke="#f0f0f0" stroke-width="0.6" fill="none"/>
<g clip-path="url(#cp02)"><path class="sc" d="M112.0 358.8 74.7 354.1 99.8 364.1 56.9 370.0 82.4 353.5 79.6 386.3 98.4 380.8 62.4 374.1 83.6 387.0 64.2 352.4 53.9 381.8 83.4 386.8 76.0 368.6 64.9 383.4 59.9 359.2 74.0 361.7 49.5 355.9 118.1 366.8 110.3 351.0 94.0 365.6 107.2 369.5 73.7 354.3 106.9 367.9 104.0 357.4 105.0 364.4 111.2 357.8 76.6 373.4 51.8 383.1 46.0 376.4 108.0 362.5 102.0 361.8 85.0 363.2 89.1 353.7 53.6 362.7 52.5 368.2 100.4 364.4 86.4 381.6 100.6 368.9 96.7 379.5 54.6 379.8 62.8 379.0 87.4 383.9 62.5 370.5 45.0 379.5 53.2 377.0 53.7 389.3 76.4 350.6 65.5 370.5 120.8 355.7 103.0 356.9 87.9 367.7 111.8 370.2 58.9 353.2 42.6 373.1 89.5 372.0 68.4 387.8 98.6 366.7 59.4 387.9 51.9 381.0 65.4 355.0 103.7 357.1 94.1 379.0 84.8 366.5 82.0 368.6 105.4 356.7 91.4 362.2 65.3 360.1 81.6 384.9 58.2 360.7 91.1 374.5 86.9 360.2 50.1 364.8 82.9 361.2 120.3 362.8 93.0 373.1 76.4 359.1 123.2 358.2 106.6 367.7 87.8 385.2 96.0 371.8 123.4 361.4 49.0 372.1 70.4 385.5 50.8 382.2 65.0 380.5 88.3 381.7 86.9 386.4 43.1 388.1 66.4 387.2 60.8 357.5 99.3 350.6 106.3 376.8 86.3 350.1 76.9 374.3 55.1 364.0 92.8 363.9 56.4 353.7 113.6 375.5 60.5 365.6 42.9 378.8 115.6 371.0 71.8 352.7 72.1 368.6 96.8 357.6 63.6 373.2 112.9 376.9 61.5 359.8 48.4 365.8 106.5 354.1 112.4 361.6 50.2 377.0 60.2 368.7 77.5 361.3 49.1 379.5 65.5 374.2 74.6 374.8 61.2 367.1 112.5 373.1 95.8 347.4 64.1 354.4 84.5 373.0 101.5 374.4 83.2 384.2 68.2 364.7 120.9 360.6 67.4 370.8 50.5 359.5 101.1 364.0 95.1 352.8 77.5 372.3 95.0 368.6 98.9 349.7 73.8 357.8 71.1 364.8 84.2 386.9 44.9 362.2 64.6 377.4 52.0 376.1 64.1 376.3 49.7 366.2 54.1 390.6 113.8 360.1 67.0 353.8 79.3 359.2 64.1 390.6 99.6 355.8 45.2 377.9 100.8 382.2 51.4 382.0 88.3 372.4 52.0 378.6 86.1 358.5 107.1 378.4 69.4 359.8 96.8 381.2 42.1 378.0 51.0 380.2 101.3 351.2 56.7 383.0 98.0 351.4 44.3 384.7 53.8 360.0 76.5 365.6 54.1 363.4 62.2 365.9 126.7 361.2 61.4 380.9 93.6 369.9 96.1 368.2 124.0 356.6 45.5 375.0 52.3 377.0 57.3 369.9 59.8 365.9 99.6 360.2 104.9 361.7 84.4 350.6 48.8 379.2 102.5 379.0 79.8 364.0 88.6 383.8 61.2 351.5 41.2 386.2 118.6 365.3 114.2 360.8 90.7 374.9 49.8 386.6 44.6 373.7 58.8 355.3 109.3 368.6 47.2 382.2 113.6 358.8 95.8 355.1 53.7 359.9 43.4 384.6 96.8 369.1 108.2 380.7 61.9 363.9 100.8 381.9 114.8 355.8 67.3 375.7 82.5 387.8 56.7 364.7 72.1 387.6 89.8 369.7 91.8 352.3 100.7 382.5 89.1 360.8 81.8 363.2 70.2 374.8 100.1 351.9 81.0 376.2 91.9 382.2 77.8 370.1 85.4 370.9 95.2 348.8 81.5 357.5 69.2 386.4 52.9 375.1 107.4 348.2 125.5 356.0 91.4 385.4 96.6 381.7 101.0 356.9 74.3 381.9 61.4 373.2 46.8 359.5 47.7 381.0 68.4 368.3 71.5 378.3 87.1 352.6 55.4 376.9 91.1 375.3 60.7 376.4 62.0 354.3 51.3 376.8 71.0 359.8 76.1 351.5 42.6 366.4 69.0 357.9 44.3 382.8 68.0 377.6 50.9 381.7 92.8 358.9 88.7 369.1 93.7 379.9 42.5 372.7 118.9 371.6 80.1 384.6 90.9 386.1 74.3 385.4 46.9 368.7 73.7 380.2 55.2 371.6 105.6 363.5 58.3 371.0 101.5 357.8 108.2 372.7 126.2 369.2 108.3 379.7 42.6 359.2 51.4 381.6 65.9 390.6 115.5 373.6 100.3 363.4 107.5 379.9 105.5 359.8 50.9 380.8 81.4 383.4 116.9 358.5 52.1 354.2 121.8 357.2 68.5 352.6 109.6 350.1 84.0 367.2 74.6 370.5 81.3 357.7 60.4 359.7 96.9 368.2 54.0 360.1 81.1 352.5 85.9 356.4 67.1 388.9 109.3 355.1 79.5 374.5 125.9 364.8 65.7 388.4 64.2 375.1 78.6 363.0 103.2 370.9 80.6 366.3 78.0 376.6 96.3 374.8 96.2 366.1 97.9 366.1 60.4 362.2 45.4 381.2 116.3 374.2 54.2 388.7 95.9 379.4 92.2 361.3 81.3 372.8 95.8 357.5 108.7 364.6 81.6 366.2 63.0 356.3 55.6 375.1 105.0 355.2 109.1 360.4 71.1 358.4 66.5 353.1 54.2 390.1 73.8 373.5 87.6 384.8 91.0 385.6 58.2 381.8 123.9 355.8 71.4 385.3 72.1 384.6 41.3 384.9 91.0 377.6 94.1 353.4 116.2 375.5 115.8 351.5 41.3 381.5 85.5 366.8 104.8 354.0 71.8 388.6 44.7 383.7 51.8 387.0 90.7 369.0 55.8 384.4 76.2 373.7 64.1 370.0 108.9 350.9 57.1 379.4 53.0 366.9 58.0 364.7 93.7 361.6 66.4 370.3 96.5 362.5 48.1 363.3 79.5 374.8 61.2 380.1 84.0 385.7 72.3 356.2 124.5 369.0 52.3 359.4 124.8 366.8 57.9 383.0 97.7 362.9 51.6 372.0 52.2 368.3 123.9 367.7 102.9 358.5 72.0 367.7 88.9 360.4 97.1 358.4 75.3 373.7 101.4 365.8 94.1 350.5 53.4 373.8 100.1 359.8 45.9 369.2 53.2 360.9 67.0 384.1 94.1 348.7 63.0 387.9 72.1 369.9 81.8 363.8 77.7 390.6 67.7 387.2 83.4 363.2 93.7 366.6 53.0 359.2 87.8 388.2 41.6 364.9 68.6 372.6 106.5 376.3 107.5 356.7 94.8 373.4 106.8 351.6 85.2 376.9 62.8 357.7 42.4 385.5 85.5 366.5 75.8 372.6 47.0 366.3 45.1 382.6 120.5 365.5 92.1 371.3 84.6 374.5 69.4 388.4 100.0 357.2 94.2 356.0 70.2 351.8 53.8 356.5 56.7 383.6 41.3 388.4 98.7 367.1 117.3 368.2 52.1 384.6 47.6 388.0 76.5 350.8 110.0 348.9 79.7 375.2 56.6 360.7 86.3 386.2 56.5 380.1 111.9 357.5 49.1 382.9 41.7 364.3 93.1 382.7 64.0 368.7 105.2 353.6 63.1 370.0 116.2 371.6 96.7 365.1 100.4 374.8 79.4 384.6 80.0 372.0 43.4 376.9 43.3 384.5 97.0 384.5 49.3 386.8 73.1 386.4 72.4 384.1 72.5 365.3 44.0 360.4 63.6 376.6 85.3 372.3 109.9 362.5 86.8 359.6 102.2 368.8 64.7 385.3 60.1 366.0 60.2 362.6 77.2 386.9 68.5 364.8 86.6 361.1 43.0 387.9 62.7 377.8 102.2 347.8 81.8 350.9 48.5 380.3 83.9 366.5 127.4 373.3 82.7 366.0 42.3 359.7 67.8 373.9 110.2 348.5 114.0 364.1 79.7 363.7 79.8 388.5 62.6 355.7 75.7 348.6 66.3 359.4 71.7 354.7 105.5 372.9 61.8 379.6 43.3 367.9 61.0 362.6 71.1 372.7 60.9 387.1 80.2 387.4 58.4 379.1 86.7 382.0 64.1 370.9 119.9 357.8 87.9 375.8 72.4 356.2 85.5 368.2 99.9 365.3 54.6 377.7 96.5 352.5 90.3 352.6 43.5 386.6 76.9 380.0 68.0 368.0 100.9 384.0 116.1 363.1 108.9 356.9 43.5 377.1 123.3 371.2 96.8 352.4 93.6 371.9 95.5 349.2 123.6 360.0 114.7 358.3 78.9 375.0 82.9 357.9 86.2 370.0 114.3 350.3 100.5 355.2 75.3 370.0 91.4 352.3 108.8 380.2 61.6 377.9 79.7 387.0 47.7 365.6 55.8 360.4 124.5 357.5 123.4 360.6 42.7 360.5 122.7 370.3 72.0 358.0 64.3 351.5 97.3 383.9 64.1 386.5 64.5 361.6 99.1 374.2 114.8 375.2 78.1 360.4 95.5 354.2 75.8 386.3 81.6 377.5 73.9 388.5 104.9 370.5 92.4 359.2 73.6 361.9 56.0 361.0 65.5 368.3 105.4 366.7 98.9 360.5 84.9 353.9 64.3 357.0 50.5 370.6 107.5 350.0 47.3 389.2 55.9 361.4 76.0 363.6 46.7 378.9 48.5 375.2 96.2 353.4 112.2 376.7 52.7 367.7 65.8 356.2 47.7 363.9 113.4 370.5 112.6 361.2 68.6 376.1 73.0 375.8 124.8 366.5 85.5 353.8 52.9 361.4 42.4 367.1 56.0 359.7 64.2 353.9 88.9 361.4 109.9 377.5 73.0 387.8 93.8 353.4 78.3 351.5 88.8 353.8 98.3 352.6 94.6 378.4 101.4 376.0 92.4 364.8 79.6 387.4 52.9 383.0 107.3 382.6 62.0 376.4 46.3 377.3 115.8 356.1 110.1 356.7 76.7 358.9 90.3 355.3 109.8 376.0 67.5 371.2 100.9 365.2 46.6 360.8 51.6 369.0 94.9 365.7 86.8 346.9 42.0 376.5 72.3 356.6 78.2 350.4 103.1 378.3 101.0 367.9 53.8 372.0 111.2 354.2 95.6 373.4 47.8 367.4 69.4 372.6 125.7 367.9 89.4 375.1 78.6 367.0 102.5 370.2 90.0 387.3 81.8 375.5 46.4 366.7 95.2 353.8 105.6 351.2 97.5 358.8 96.9 368.7 79.5 372.0 89.7 369.3 93.1 363.3 123.2 352.4 69.7 356.4 47.4 383.7 56.9 347.5 86.3 343.2 103.5 340.1 80.8 343.3 95.0 345.3 56.7 349.7 114.3 343.2 107.2 332.2 99.0 340.1"/></g>
<line x1="38.04" y1="391.37" x2="127.99" y2="312.45" stroke="#e4505f" stroke-width="1.25" stroke-dasharray="2.9,1.4"/>
<line x1="41.14" y1="381.03" x2="127.99" y2="354.51" stroke="#111" stroke-width="1.85"/>
<rect x="33.7" y="308.1" width="99.1" height="86.4" fill="none" stroke="#444" stroke-width="1.3"/>
<path d="M41.14 394.5v2M79.92 394.5v2M118.69 394.5v2M33.7 388.65h-2M33.7 361.44h-2M33.7 334.22h-2" stroke="#333" stroke-width="0.8"/>
<text x="41.14" y="405" class="k">0</text>
<text x="79.92" y="405" class="k">250</text>
<text x="118.69" y="405" class="k">500</text>
<text x="30.6" y="391.95" class="k ke">0</text>
<text x="30.6" y="364.74" class="k ke">200</text>
<text x="30.6" y="337.52" class="k ke">400</text>
<text x="83.25" y="414" class="a">True Value</text>
<text x="12.7" y="351.3" class="a" transform="rotate(-90 12.7 351.3)">Predicted Value</text>
<rect x="36.4" y="311.5" width="57.7" height="25.6" rx="1" fill="#fff" fill-opacity="0.85" stroke="#8c8c8c" stroke-width="0.7"/>
<circle cx="45.1" cy="315.7" r="2.6" fill="#0f79c2" fill-opacity="0.66" stroke="#fff" stroke-width="0.5"/>
<line x1="38.9" y1="323.7" x2="50.7" y2="323.7" stroke="#e4505f" stroke-width="1.25" stroke-dasharray="2.9,1.4"/>
<line x1="38.9" y1="332.2" x2="50.7" y2="332.2" stroke="#111" stroke-width="1.85"/>
<text x="55.7" y="318" class="l">Data Points</text>
<text x="55.7" y="326.25" class="l">Reference Line</text>
<text x="55.7" y="334.5" class="l">Fitted Line</text>
<text x="354.8" y="295.3" class="t">Fold 5</text>
<text x="354.8" y="305.5" class="t">R² = 0.20, MAE = 40.81</text>
<clipPath id="cp22"><rect x="310.3" y="308.1" width="89" height="86.4"/></clipPath>
<path d="M314.67 308.1V394.5M347.56 308.1V394.5M380.45 308.1V394.5M310.3 390.25H399.3M310.3 358.32H399.3M310.3 326.4H399.3" stroke="#f0f0f0" stroke-width="0.6" fill="none"/>
<g clip-path="url(#cp22)"><path class="sc" d="M316.4 385.1 333.5 381.3 324.2 390.0 324.1 373.1 318.0 387.2 331.6 373.2 334.3 387.6 315.3 389.7 331.2 375.4 333.4 379.3 320.4 389.9 316.9 386.6 328.9 375.2 318.4 381.3 332.3 378.2 315.9 383.2 325.8 376.9 320.1 382.8 321.8 380.1 322.1 373.5 319.8 380.5 321.2 381.6 331.4 381.3 315.9 382.4 330.1 382.4 321.4 382.2 331.3 389.6 327.4 383.7 331.4 373.0 331.2 386.9 318.9 389.5 315.7 374.7 330.2 381.9 321.9 373.5 326.5 382.4 319.6 379.6 315.9 390.2 327.6 386.7 334.9 382.7 323.9 379.7 322.6 388.8 334.9 380.1 315.7 384.3 326.6 390.2 333.4 384.2 315.2 389.3 330.1 388.8 321.5 379.4 316.8 376.6 326.9 385.4 329.5 390.1 320.8 377.8 317.6 375.9 326.3 380.5 323.1 382.2 319.7 375.8 323.2 376.2 316.1 383.4 317.9 373.5 334.4 389.7 320.3 373.5 321.7 384.5 328.7 384.5 316.4 385.1 320.8 383.2 325.1 384.2 315.4 382.9 327.6 380.2 334.8 388.1 333.2 389.7 318.9 385.0 331.2 385.0 317.5 387.5 318.0 389.2 337.8 385.0 336.1 387.8 345.6 387.4 314.7 386.3 333.6 389.0 333.1 388.7 345.8 385.6 327.0 386.7 337.4 386.1 337.4 388.1 319.9 385.1 332.0 388.3 320.6 387.5 352.3 385.3 331.0 388.1 334.6 387.0 318.3 388.8 342.7 386.2 344.0 387.4 347.7 389.5 324.4 388.8 320.3 387.3 342.8 387.3 342.4 387.2 357.3 384.8 330.3 388.1 340.1 386.8 351.4 385.8 353.8 385.0 315.9 389.3 321.3 388.7 336.7 388.5 319.1 385.5 316.5 386.4 334.9 388.2 318.4 385.8 349.2 389.5 355.1 385.9 343.6 373.7 369.6 387.1 395.2 386.0"/></g>
<line x1="314.35" y1="390.57" x2="395.25" y2="312.03" stroke="#e4505f" stroke-width="1.25" stroke-dasharray="2.9,1.4"/>
<line x1="314.67" y1="388.59" x2="395.25" y2="372.71" stroke="#111" stroke-width="1.85"/>
<rect x="310.3" y="308.1" width="89" height="86.4" fill="none" stroke="#444" stroke-width="1.3"/>
<path d="M314.67 394.5v2M347.56 394.5v2M380.45 394.5v2M310.3 390.25h-2M310.3 358.32h-2M310.3 326.4h-2" stroke="#333" stroke-width="0.8"/>
<text x="314.67" y="405" class="k">0</text>
<text x="347.56" y="405" class="k">1000</text>
<text x="380.45" y="405" class="k">2000</text>
<text x="306.5" y="393.55" class="k ke">0</text>
<text x="306.5" y="361.62" class="k ke">1000</text>
<text x="306.5" y="329.7" class="k ke">2000</text>
<text x="354.8" y="414" class="a">True Value</text>
<text x="284.1" y="351.3" class="a" transform="rotate(-90 284.1 351.3)">Predicted Value</text>
<rect x="313" y="311.5" width="57.7" height="25.6" rx="1" fill="#fff" fill-opacity="0.85" stroke="#8c8c8c" stroke-width="0.7"/>
<circle cx="321.7" cy="315.7" r="2.6" fill="#0f79c2" fill-opacity="0.66" stroke="#fff" stroke-width="0.5"/>
<line x1="315.5" y1="323.7" x2="327.3" y2="323.7" stroke="#e4505f" stroke-width="1.25" stroke-dasharray="2.9,1.4"/>
<line x1="315.5" y1="332.2" x2="327.3" y2="332.2" stroke="#111" stroke-width="1.85"/>
<text x="332.3" y="318" class="l">Data Points</text>
<text x="332.3" y="326.25" class="l">Reference Line</text>
<text x="332.3" y="334.5" class="l">Fitted Line</text>
<text x="219.75" y="295.3" class="t">Fold 6</text>
<text x="219.75" y="305.5" class="t">R² = 0.36, MAE = 47.11</text>
<clipPath id="cp12"><rect x="170.4" y="308.1" width="98.7" height="86.4"/></clipPath>
<path d="M177.81 308.1V394.5M216.43 308.1V394.5M255.04 308.1V394.5M170.4 388.65H269.1M170.4 361.44H269.1M170.4 334.22H269.1" stroke="#f0f0f0" stroke-width="0.6" fill="none"/>
<g clip-path="url(#cp12)"><path class="sc" d="M205.5 362.7 210.7 379.8 246.1 359.6 222.8 347.7 178.3 358.2 253.3 358.2 220.1 381.0 241.0 370.6 198.0 382.8 243.5 372.5 205.1 352.5 200.2 371.8 224.0 370.6 181.4 383.2 250.6 359.0 210.8 350.6 201.2 377.1 202.8 377.4 235.8 381.1 238.3 362.1 189.8 355.4 247.6 369.4 226.4 356.8 188.9 358.8 252.8 373.6 250.1 370.3 186.7 356.6 261.3 366.3 202.2 366.2 225.8 371.6 216.4 350.1 183.4 374.3 262.8 372.3 252.2 365.1 232.3 380.9 242.4 356.2 211.0 370.3 223.6 388.3 231.4 354.7 223.3 379.1 209.3 364.4 189.7 360.1 200.1 356.2 190.8 358.4 243.4 360.2 207.5 355.2 239.9 377.6 228.7 360.6 241.2 363.0 242.4 364.9 217.8 384.6 204.5 350.7 240.0 359.4 248.6 365.2 198.7 357.7 253.4 364.3 196.5 373.3 215.4 382.4 194.1 363.9 234.9 353.3 187.6 384.8 249.1 374.8 212.3 384.2 244.7 369.6 238.4 369.0 245.8 354.4 200.8 369.3 237.8 350.4 241.3 377.0 189.1 370.7 235.4 376.0 200.5 363.3 186.2 362.5 254.3 355.9 189.3 373.3 214.7 359.2 192.4 364.3 185.4 371.4 233.3 357.4 232.7 357.4 244.1 362.9 242.8 352.5 182.5 369.1 212.6 373.4 206.0 355.6 238.9 356.2 204.2 368.6 190.9 358.3 179.4 367.1 251.7 376.5 216.1 355.6 241.7 368.8 217.8 355.0 256.8 366.3 221.3 363.7 231.7 359.4 203.4 360.3 181.2 362.5 206.1 362.3 248.2 362.0 256.5 377.8 184.9 386.5 221.8 379.2 214.0 385.6 187.0 368.9 223.7 375.5 191.1 376.4 235.6 370.6 219.3 360.2 238.8 350.7 223.8 380.9 203.1 386.0 249.2 362.0 243.8 378.7 195.4 357.3 209.5 360.2 200.3 368.8 252.5 358.4 193.0 370.6 244.0 378.6 209.6 383.4 210.2 364.7 231.6 376.6 207.9 361.0 223.6 368.2 239.7 365.9 235.5 352.4 181.8 373.0 197.6 366.7 210.0 351.6 239.0 358.2 248.6 370.3 219.4 356.7 236.0 353.7 262.1 373.6 240.9 362.5 238.8 376.6 209.3 380.9 191.5 375.0 178.1 362.3 239.7 367.1 239.3 349.0 221.4 381.7 199.9 360.2 186.5 366.3 195.3 388.9 179.2 372.5 196.2 354.2 218.3 366.0 230.5 372.3 178.0 365.0 192.9 362.2 230.1 381.1 243.9 374.3 182.5 386.8 235.3 368.0 191.7 378.7 232.4 371.9 223.1 350.7 210.8 354.0 203.0 379.3 263.8 357.5 208.8 352.7 220.3 386.1 195.9 353.5 244.4 351.8 219.8 390.4 225.2 365.6 253.0 371.8 209.6 374.3 221.1 350.0 200.0 380.7 220.4 379.3 196.7 383.5 237.0 371.3 191.3 377.2 194.9 384.5 197.8 370.9 205.8 388.6 243.8 375.2 186.2 386.0 249.4 376.2 217.1 373.5 234.9 357.2 239.1 367.2 230.2 383.1 217.9 376.0 234.4 367.8 215.2 369.2 249.7 372.9 247.0 360.5 249.9 366.4 241.3 377.7 190.0 354.4 179.9 386.1 183.0 371.8 243.0 368.4 202.2 353.8 231.8 350.0 242.8 360.7 264.0 370.0 247.3 364.4 183.8 359.0 224.1 380.9 227.3 355.9 205.0 370.3 205.3 372.8 180.8 367.4 221.1 363.6 239.6 370.6 225.4 365.4 205.4 381.8 249.2 351.4 238.7 361.7 235.7 353.3 245.3 375.5 248.6 354.7 226.1 381.2 196.3 377.7 227.9 359.4 238.7 356.2 227.3 357.8 216.7 362.0 234.1 350.9 185.8 380.1 247.8 355.4 229.3 381.1 245.0 371.6 179.5 380.4 181.3 366.1 191.6 381.1 237.8 359.7 202.7 359.7 238.9 379.5 188.1 369.3 237.8 364.1 178.1 357.2 187.5 366.7 242.0 350.0 196.4 378.5 253.8 371.5 220.0 358.6 217.8 373.7 229.2 356.7 242.8 354.0 196.6 370.8 211.0 349.9 206.6 350.6 194.7 367.4 196.5 360.4 202.9 387.4 207.5 365.4 212.0 377.5 184.8 372.1 262.6 366.6 263.7 366.9 218.8 378.0 180.4 367.9 230.8 357.7 195.4 370.3 216.0 369.2 225.6 351.1 192.1 381.7 229.2 365.0 185.3 375.4 229.9 348.3 239.1 361.4 241.5 353.7 179.7 362.3 211.2 355.0 186.1 383.2 201.2 387.8 218.3 366.2 227.9 367.1 258.6 361.7 183.2 358.3 216.7 386.6 181.5 377.0 228.9 350.7 184.1 376.0 186.9 377.5 193.0 372.4 257.7 357.1 238.9 368.8 220.9 379.8 191.1 365.9 223.8 353.3 194.3 381.9 223.2 357.1 228.1 384.3 243.6 368.2 208.7 373.0 218.0 379.1 223.4 378.1 239.7 348.0 225.4 383.1 186.5 376.2 208.9 356.6 242.8 358.9 178.2 358.8 232.3 349.7 206.9 366.0 211.8 367.6 183.2 368.3 217.3 349.7 260.4 368.9 234.4 370.3 240.7 376.9 250.8 375.9 226.7 384.1 243.6 350.4 220.8 380.7 219.7 358.5 218.4 382.1 200.0 368.8 212.6 358.8 181.0 359.3 216.8 379.2 189.1 388.7 240.9 371.1 242.5 363.2 248.0 361.7 233.5 375.5 250.0 352.7 214.7 364.4 180.4 371.7 188.1 360.3 208.6 377.1 195.7 383.4 215.1 382.8 229.7 349.8 184.4 367.0 203.3 370.1 208.3 381.1 192.4 372.9 224.5 353.4 188.7 383.0 189.4 378.6 197.3 372.9 247.0 365.7 179.4 376.9 202.5 367.2 224.9 372.3 180.1 388.1 235.8 381.2 247.2 365.2 225.2 379.5 240.9 349.4 219.6 376.4 241.1 360.8 197.4 370.5 230.8 365.7 240.7 348.3 214.2 362.3 216.9 362.1 190.6 358.1 187.1 380.1 218.7 377.5 240.1 370.9 189.3 368.7 221.7 363.6 179.8 371.4 212.7 382.8 186.5 369.0 190.9 372.5 203.1 382.8 225.2 371.2 230.4 355.8 232.4 385.2 184.6 366.9 225.3 355.7 262.3 354.6 257.7 373.6 222.9 368.8 243.1 375.7 212.1 362.8 257.4 364.5 219.4 377.1 242.9 365.7 196.9 357.5 247.9 374.8 223.8 354.1 234.8 368.5 200.6 381.2 198.6 360.3 184.8 381.4 195.1 351.3 254.8 358.7 182.8 384.9 205.2 377.2 237.6 365.9 180.6 384.0 221.4 374.1 236.5 362.1 240.2 352.3 252.2 362.8 204.1 349.3 251.4 376.3 253.3 378.7 201.7 359.9 258.5 355.3 218.9 349.4 247.1 352.2 258.4 356.4 182.0 389.2 183.2 370.2 180.9 367.0 178.0 384.2 223.2 355.5 212.4 379.8 212.6 351.6 188.5 363.1 239.1 361.8 196.3 364.7 225.6 382.4 227.2 367.6 251.5 357.4 215.8 375.8 223.2 379.5 262.6 364.7 212.7 348.1 229.6 367.5 189.1 388.2 213.1 379.1 212.3 366.7 238.7 362.8 209.7 386.5 183.5 384.2 232.8 374.0 207.7 382.1 223.8 386.3 220.0 351.9 211.6 378.2 192.7 352.6 179.5 369.9 223.3 360.1 213.8 369.7 198.3 388.0 219.3 383.3 248.3 369.3 228.1 382.7 202.9 350.7 223.3 365.5 185.9 362.0 201.4 379.5 229.0 352.4 185.7 387.0 200.0 376.8 260.2 372.4 229.8 362.7 234.1 364.8 179.9 363.9 232.4 358.7 246.0 380.8 186.4 364.3 196.4 383.1 223.3 373.3 217.3 374.1 212.2 352.4 190.3 372.1 222.2 383.4 196.8 385.1 198.2 375.6 228.6 363.4 225.4 379.5 232.6 367.7 219.3 354.5 255.8 362.3 188.1 369.9 188.8 388.6 230.6 358.9 205.2 370.2 213.1 354.6 179.1 373.7 226.4 363.2 180.8 387.1 238.4 349.7 191.4 388.7 207.7 379.0 197.3 354.7 221.3 370.4 212.7 383.3 230.8 378.3 199.5 380.8 190.2 362.7 240.8 352.9 188.0 367.4 190.4 383.4 202.3 354.2 196.8 359.2 215.6 381.9 235.5 378.9 183.1 388.2 196.4 367.5 208.1 361.3 191.1 352.8 219.8 389.3 254.5 364.2 214.3 372.6 228.1 348.4 254.5 366.8 229.0 370.4 250.3 363.3 245.4 359.6 214.6 358.0 263.6 370.0 208.4 353.5 246.1 378.4 230.2 368.5 255.4 357.5 184.0 379.8 253.5 361.9 209.6 352.6 178.5 373.2 203.6 359.9 195.6 365.8 189.2 370.6 189.7 369.7 220.2 362.0 200.9 365.5 223.9 362.6 237.3 353.3 212.5 366.9 242.2 350.5 232.5 381.4 214.7 370.5 196.4 386.6 205.3 354.3 243.9 376.6 202.2 380.1 183.0 359.5 182.7 362.4 241.1 366.7 225.3 350.9 182.2 364.0 197.0 381.7 190.0 381.2 189.5 359.2 205.9 385.7 254.4 359.1 194.0 377.1 254.6 373.9 226.1 379.0 197.0 374.5 193.4 356.4 200.1 388.2 179.4 386.1 202.0 368.5 226.7 371.2 203.4 384.9 255.9 378.0 200.7 359.9 237.2 353.9 237.6 372.5 223.0 356.0 210.5 360.3 228.9 367.6 204.1 370.4 260.4 362.6 252.3 362.7 243.8 362.1 185.4 384.8 214.6 373.2 198.8 361.7 186.4 381.3 252.2 362.8 220.5 390.6 256.3 364.6 231.0 370.3 229.3 371.1 182.5 388.1 237.3 381.0 229.5 355.7 212.4 352.8 205.0 382.4 188.7 377.0 257.7 361.7 225.0 385.3 245.8 372.0 206.2 382.4 220.6 359.1 217.7 368.9 233.1 381.4 208.1 385.7 211.3 362.9 179.9 370.7 262.2 360.6 197.5 382.1 227.1 376.5 219.3 379.2 201.1 369.5 203.3 383.3 243.7 363.1 192.0 362.8 203.6 388.4 183.9 384.1 234.1 354.2 259.5 359.6 218.7 374.2 252.9 345.8 262.3 352.0 246.4 346.4 261.9 352.2 185.8 347.3 235.0 346.2 250.0 346.3 243.6 332.2 235.4 340.1"/></g>
<line x1="174.72" y1="391.37" x2="264.31" y2="312.45" stroke="#e4505f" stroke-width="1.25" stroke-dasharray="2.9,1.4"/>
<line x1="177.81" y1="381.03" x2="264.31" y2="354.51" stroke="#111" stroke-width="1.85"/>
<rect x="170.4" y="308.1" width="98.7" height="86.4" fill="none" stroke="#444" stroke-width="1.3"/>
<path d="M177.81 394.5v2M216.43 394.5v2M255.04 394.5v2M170.4 388.65h-2M170.4 361.44h-2M170.4 334.22h-2" stroke="#333" stroke-width="0.8"/>
<text x="177.81" y="405" class="k">0</text>
<text x="216.43" y="405" class="k">250</text>
<text x="255.04" y="405" class="k">500</text>
<text x="167.3" y="391.95" class="k ke">0</text>
<text x="167.3" y="364.74" class="k ke">200</text>
<text x="167.3" y="337.52" class="k ke">400</text>
<text x="219.75" y="414" class="a">True Value</text>
<text x="149.4" y="351.3" class="a" transform="rotate(-90 149.4 351.3)">Predicted Value</text>
<rect x="173.1" y="311.5" width="57.7" height="25.6" rx="1" fill="#fff" fill-opacity="0.85" stroke="#8c8c8c" stroke-width="0.7"/>
<circle cx="181.8" cy="315.7" r="2.6" fill="#0f79c2" fill-opacity="0.66" stroke="#fff" stroke-width="0.5"/>
<line x1="175.6" y1="323.7" x2="187.4" y2="323.7" stroke="#e4505f" stroke-width="1.25" stroke-dasharray="2.9,1.4"/>
<line x1="175.6" y1="332.2" x2="187.4" y2="332.2" stroke="#111" stroke-width="1.85"/>
<text x="192.4" y="318" class="l">Data Points</text>
<text x="192.4" y="326.25" class="l">Reference Line</text>
<text x="192.4" y="334.5" class="l">Fitted Line</text>
<text x="495.1" y="295.3" class="t">Fold 6</text>
<text x="495.1" y="305.5" class="t">R² = 0.22, MAE = 40.06</text>
<clipPath id="cp32"><rect x="450.2" y="308.1" width="89.8" height="86.4"/></clipPath>
<path d="M454.61 308.1V394.5M487.8 308.1V394.5M520.98 308.1V394.5M450.2 390.25H540M450.2 358.32H540M450.2 326.4H540" stroke="#f0f0f0" stroke-width="0.6" fill="none"/>
<g clip-path="url(#cp32)"><path class="sc" d="M473.4 388.7 476.1 388.7 467.2 378.4 463.9 374.4 477.8 377.1 470.6 389.2 467.5 375.5 467.2 379.5 476.5 378.4 463.2 388.4 455.0 386.4 477.4 386.8 461.7 383.9 462.2 388.3 457.8 384.9 466.6 387.2 462.9 387.9 460.3 384.8 457.0 380.6 461.3 377.7 456.7 384.2 467.5 388.2 469.6 375.1 465.3 376.3 463.1 376.1 468.9 383.2 464.0 388.2 474.3 389.6 465.4 383.4 464.4 380.8 463.7 379.0 462.5 386.2 461.8 377.7 464.6 389.9 459.0 379.0 458.2 384.6 459.7 383.0 470.8 383.1 457.9 390.1 472.2 376.0 463.4 379.1 458.2 384.5 469.2 378.4 456.0 387.9 467.6 385.3 474.0 388.5 467.5 374.5 475.2 380.7 463.4 387.8 465.3 388.3 457.0 376.3 464.4 387.4 465.5 388.1 477.7 390.1 459.0 389.5 461.8 384.7 466.2 382.0 465.3 380.8 470.1 386.5 456.2 375.4 468.0 383.2 456.6 381.3 468.4 387.3 456.3 383.8 474.6 378.4 457.9 376.1 455.0 384.1 466.9 386.6 460.8 383.2 467.9 386.9 473.2 378.0 477.2 385.5 460.1 388.7 463.9 385.9 461.4 387.9 455.9 389.5 471.7 388.1 491.1 389.0 490.3 387.3 473.6 389.5 462.6 387.6 483.4 387.4 463.9 386.7 466.0 386.0 465.5 388.1 470.4 389.3 473.6 388.8 455.5 387.3 479.0 385.3 463.3 387.6 475.0 386.9 476.6 386.2 460.4 384.9 458.0 385.6 468.0 386.6 472.9 387.1 466.5 385.3 480.0 385.5 487.1 389.6 476.8 389.3 476.0 388.4 483.0 385.5 463.9 386.2 477.5 386.1 458.7 385.4 472.4 387.9 455.0 388.1 476.3 389.2 455.7 388.1 470.3 385.3 483.5 385.0 459.8 389.2 491.6 388.0 497.0 385.0 504.0 386.0 522.0 380.0 527.0 382.0 529.4 388.6 536.0 384.4"/></g>
<line x1="454.28" y1="390.57" x2="535.92" y2="312.03" stroke="#e4505f" stroke-width="1.25" stroke-dasharray="2.9,1.4"/>
<line x1="454.61" y1="388.98" x2="535.92" y2="371.61" stroke="#111" stroke-width="1.85"/>
<rect x="450.2" y="308.1" width="89.8" height="86.4" fill="none" stroke="#444" stroke-width="1.3"/>
<path d="M454.61 394.5v2M487.8 394.5v2M520.98 394.5v2M450.2 390.25h-2M450.2 358.32h-2M450.2 326.4h-2" stroke="#333" stroke-width="0.8"/>
<text x="454.61" y="405" class="k">0</text>
<text x="487.8" y="405" class="k">1000</text>
<text x="520.98" y="405" class="k">2000</text>
<text x="446.4" y="393.55" class="k ke">0</text>
<text x="446.4" y="361.62" class="k ke">1000</text>
<text x="446.4" y="329.7" class="k ke">2000</text>
<text x="495.1" y="414" class="a">True Value</text>
<text x="424" y="351.3" class="a" transform="rotate(-90 424 351.3)">Predicted Value</text>
<rect x="452.9" y="311.5" width="57.7" height="25.6" rx="1" fill="#fff" fill-opacity="0.85" stroke="#8c8c8c" stroke-width="0.7"/>
<circle cx="461.6" cy="315.7" r="2.6" fill="#0f79c2" fill-opacity="0.66" stroke="#fff" stroke-width="0.5"/>
<line x1="455.4" y1="323.7" x2="467.2" y2="323.7" stroke="#e4505f" stroke-width="1.25" stroke-dasharray="2.9,1.4"/>
<line x1="455.4" y1="332.2" x2="467.2" y2="332.2" stroke="#111" stroke-width="1.85"/>
<text x="472.2" y="318" class="l">Data Points</text>
<text x="472.2" y="326.25" class="l">Reference Line</text>
<text x="472.2" y="334.5" class="l">Fitted Line</text>
<text x="83.25" y="434.8" class="t">Fold 7</text>
<text x="83.25" y="445" class="t">R² = 0.36, MAE = 46.04</text>
<clipPath id="cp03"><rect x="33.7" y="447.6" width="99.1" height="86.4"/></clipPath>
<path d="M41.14 447.6V534M79.92 447.6V534M118.69 447.6V534M33.7 528.15H132.8M33.7 500.94H132.8M33.7 473.72H132.8" stroke="#f0f0f0" stroke-width="0.6" fill="none"/>
<g clip-path="url(#cp03)"><path class="sc" d="M72.2 510.5 73.5 516.8 91.2 488.5 106.0 520.3 57.2 505.3 91.9 498.7 87.6 526.0 93.5 509.9 64.1 507.1 42.4 518.9 61.3 495.8 118.4 502.3 118.9 514.6 47.1 508.9 76.2 508.9 114.9 492.0 89.5 513.3 68.7 497.2 93.3 492.1 116.1 495.8 55.7 528.4 58.0 523.3 85.8 515.4 49.9 498.0 109.3 505.7 79.7 522.9 111.7 512.5 119.9 504.0 100.1 509.9 64.3 507.0 85.1 491.6 69.6 505.1 100.7 491.7 103.8 504.4 76.0 501.0 108.5 502.5 59.5 499.6 79.2 521.8 59.5 526.0 111.9 505.4 110.9 504.2 103.5 502.1 69.3 495.7 106.1 519.0 105.5 493.3 111.6 502.5 65.5 503.6 71.5 511.0 67.4 495.2 65.1 517.3 52.5 498.8 99.3 486.9 44.8 524.9 124.1 503.4 58.2 518.9 47.7 522.8 59.2 495.5 42.1 529.8 74.1 518.8 106.2 498.7 98.1 492.4 44.4 519.8 48.0 524.2 105.4 490.3 71.6 499.1 88.7 489.6 42.4 527.8 127.0 511.3 108.0 491.8 87.5 490.4 71.2 515.0 59.9 501.7 116.6 496.5 61.8 523.8 46.9 528.5 43.9 518.3 52.4 511.8 123.6 511.0 97.1 505.3 93.4 517.7 117.3 515.1 95.6 493.9 78.4 523.6 85.0 515.7 84.7 494.0 60.4 498.1 85.1 525.4 65.8 497.1 60.8 518.9 101.5 515.3 85.7 499.0 75.2 515.9 93.7 494.5 42.0 527.4 68.3 491.9 113.4 518.9 93.9 510.7 95.4 519.4 112.1 488.4 93.9 494.1 46.0 502.9 68.7 497.6 63.4 529.5 87.9 499.4 90.1 493.5 105.0 497.1 123.0 503.4 93.5 525.1 82.4 502.8 43.7 507.1 53.9 504.4 112.2 509.9 99.6 524.9 113.4 501.3 123.7 500.1 42.6 516.3 57.5 511.3 110.8 517.0 61.8 511.0 103.1 498.4 80.3 527.3 84.6 509.2 75.0 494.0 103.3 506.4 86.1 510.7 107.8 503.0 79.7 499.7 59.0 508.3 107.2 490.6 63.1 526.7 87.6 500.4 113.1 502.7 114.6 496.4 44.9 514.9 52.3 497.7 94.3 511.5 77.5 512.1 79.6 496.7 98.4 490.1 51.4 517.6 53.0 510.1 94.8 514.1 72.0 504.8 125.5 498.0 47.2 517.1 45.0 528.7 53.0 525.4 84.6 522.0 57.0 505.5 104.6 493.1 72.6 519.6 109.7 516.6 71.1 491.8 76.7 504.8 98.0 498.6 67.3 507.6 50.3 519.0 104.3 520.2 75.6 519.4 100.8 500.3 90.2 514.6 83.9 496.5 61.4 518.1 79.9 505.5 89.5 525.6 66.5 507.4 105.7 512.0 92.7 493.8 97.0 518.9 50.7 529.2 123.7 504.6 80.2 510.3 45.3 517.6 47.8 509.1 57.5 500.4 113.3 518.0 109.4 507.3 93.4 515.1 93.6 500.4 64.5 493.3 44.8 527.3 102.9 513.9 42.4 516.8 43.0 520.8 96.7 511.8 60.8 490.6 41.8 512.6 116.0 503.3 87.9 489.6 69.7 522.8 60.9 499.9 99.3 520.0 111.6 515.1 66.2 506.3 75.9 495.9 42.9 525.3 55.2 510.6 68.6 513.1 48.9 523.5 85.3 523.9 47.3 517.0 45.8 496.2 94.5 491.7 46.5 508.1 109.8 497.2 41.6 499.2 44.4 501.4 81.4 505.1 53.0 502.6 46.5 503.8 64.6 500.8 57.3 516.6 103.5 515.9 48.0 518.7 94.7 516.3 44.1 527.1 114.6 505.0 74.1 523.7 56.8 513.7 81.7 495.6 71.3 500.3 75.5 526.6 93.5 507.2 97.5 498.2 51.6 518.9 85.4 513.2 96.9 500.2 95.1 489.5 96.0 510.5 49.8 500.8 84.4 505.0 113.7 497.4 106.6 502.4 98.1 508.1 99.9 524.2 48.3 526.5 89.2 522.3 111.7 505.6 107.2 519.3 118.8 507.9 48.9 511.2 101.3 495.9 76.0 517.8 69.8 494.9 64.4 520.8 87.9 496.2 96.8 517.4 51.3 517.9 75.2 500.1 67.7 500.6 84.2 524.6 58.4 493.7 84.4 495.3 109.9 508.4 74.7 498.3 109.9 515.3 86.4 523.3 49.4 511.2 41.7 504.9 67.1 496.7 51.3 502.9 99.5 491.1 59.1 518.2 114.6 505.7 102.3 514.7 72.7 510.2 64.6 515.9 46.7 496.6 73.9 507.0 78.4 502.3 73.4 491.6 75.7 520.9 85.3 505.1 45.6 519.7 89.3 521.8 53.2 516.6 63.0 515.4 53.2 524.6 52.4 499.2 68.3 520.3 109.6 509.6 78.6 515.1 118.2 509.7 80.4 520.8 91.6 499.8 42.1 523.2 112.2 504.8 101.8 511.7 57.6 527.6 105.3 520.6 96.7 522.4 56.2 511.8 52.6 525.1 91.2 497.3 44.0 496.6 67.2 503.1 97.6 492.0 82.5 493.6 67.4 510.3 109.7 499.6 111.4 509.0 80.6 511.6 48.9 514.8 76.6 511.3 107.2 510.3 51.9 528.1 104.1 522.6 126.0 496.3 77.7 500.8 120.6 503.7 107.8 503.3 70.9 522.2 90.5 526.9 58.1 492.5 68.8 504.6 109.6 505.9 115.5 496.2 112.5 502.9 100.1 493.3 89.4 518.2 51.9 524.9 123.3 507.0 86.8 510.6 73.4 528.4 81.6 497.8 125.0 510.0 110.0 495.1 56.1 514.6 93.6 503.1 49.1 497.1 101.1 490.7 124.3 500.1 92.3 496.2 54.6 521.0 42.9 516.4 87.2 512.2 49.2 524.5 97.2 504.7 106.9 500.3 97.7 521.3 75.0 498.5 108.2 512.6 80.7 520.8 108.3 515.8 54.2 522.5 65.6 502.1 52.0 507.7 114.2 502.5 123.1 510.2 93.3 505.5 77.3 491.8 107.0 497.4 102.7 522.8 71.5 489.9 118.9 517.4 76.5 503.2 43.9 504.9 65.5 512.1 74.5 509.9 79.2 503.0 77.1 487.1 104.3 515.3 105.9 499.5 115.8 506.5 84.4 504.8 110.2 494.9 46.4 497.4 102.9 504.8 120.6 515.4 64.3 528.0 61.1 527.2 85.6 518.4 63.8 502.0 94.4 489.0 97.4 519.7 87.5 490.9 108.7 507.5 68.0 527.6 41.5 528.8 97.9 495.4 44.5 502.4 89.7 518.2 54.5 517.1 49.9 524.1 93.5 497.5 52.3 507.9 122.8 504.3 50.1 502.4 60.4 511.4 67.9 521.2 43.2 526.5 78.2 491.9 55.7 495.3 50.4 514.1 124.1 508.8 109.3 508.2 65.4 519.0 56.9 504.0 102.5 493.4 99.1 503.5 121.6 503.3 105.7 489.7 76.3 510.7 80.8 520.0 42.7 527.2 74.3 523.3 53.2 500.4 41.7 500.4 109.3 501.7 71.6 496.9 87.6 491.5 87.4 525.6 122.0 515.5 119.2 514.5 62.9 502.9 116.5 492.9 63.3 510.9 91.0 522.4 46.3 502.7 69.8 503.3 80.6 494.1 65.5 498.4 73.2 502.8 62.1 512.0 78.6 505.7 41.4 501.3 64.1 491.9 46.7 512.6 54.6 508.6 61.4 490.2 98.7 508.8 104.4 506.1 59.6 497.9 98.6 501.6 91.6 494.5 102.2 502.7 50.4 492.4 70.9 498.7 64.1 517.0 68.5 520.6 88.7 523.7 75.5 527.9 52.4 514.3 90.2 502.8 114.0 494.1 122.6 493.7 65.9 512.6 43.6 510.2 88.6 488.3 74.4 507.7 50.2 496.3 86.2 500.3 93.8 513.4 52.2 496.0 86.4 504.1 86.9 489.9 63.9 513.7 67.8 497.5 106.8 499.5 78.3 504.2 112.3 507.4 64.9 525.2 44.0 511.5 79.1 527.1 41.4 519.5 49.7 507.6 58.2 514.6 61.0 523.7 76.0 511.3 83.5 509.1 99.8 521.0 77.2 528.5 68.4 514.4 83.0 504.0 90.2 490.6 75.8 518.4 92.3 504.7 115.8 513.7 83.4 520.2 47.6 497.3 82.4 519.6 85.8 503.0 66.5 515.2 50.0 513.8 91.3 491.7 59.1 518.7 93.7 506.2 61.0 497.0 95.3 507.4 65.3 495.7 57.6 518.4 64.6 506.1 78.4 526.1 84.7 507.4 59.8 521.7 126.8 499.8 98.4 504.7 54.3 507.2 98.7 504.3 75.8 492.5 50.3 520.8 93.4 514.6 119.0 512.9 41.7 503.1 63.8 499.4 70.2 497.5 107.2 507.0 80.3 512.0 77.9 497.0 63.4 526.2 114.5 508.4 79.6 516.4 102.1 519.4 95.7 508.7 44.1 519.1 49.8 522.3 102.9 518.2 110.5 510.5 93.3 509.2 51.1 526.7 57.4 524.4 64.0 511.3 76.9 513.4 54.8 525.3 51.4 502.7 92.5 500.1 55.3 519.7 63.0 512.4 108.4 495.0 62.7 512.0 84.3 505.9 95.5 523.8 98.0 515.4 72.7 512.4 118.6 505.2 73.1 498.8 105.5 507.3 114.8 505.5 96.3 516.7 71.5 494.3 50.2 530.1 122.7 505.9 60.4 519.4 55.9 526.6 56.5 524.7 66.4 519.5 91.9 515.6 54.2 525.5 106.7 504.2 89.7 496.9 65.5 505.7 100.0 496.0 119.8 513.3 86.4 518.5 72.1 496.0 86.5 499.2 79.8 526.2 63.7 526.0 55.5 502.1 76.3 489.8 77.7 510.3 108.5 502.9 80.1 503.1 90.3 510.7 62.1 510.5 69.6 501.8 46.6 497.6 77.3 523.2 93.1 490.9 81.7 515.7 92.3 507.1 65.0 520.7 75.5 525.8 103.8 507.5 85.0 517.0 42.2 520.6 114.5 494.9 51.5 522.8 126.1 497.9 100.8 516.2 99.2 512.1 58.9 497.9 91.4 504.6 82.9 502.7 50.6 511.7 57.2 527.8 59.8 520.6 106.9 509.6 99.6 525.5 105.9 515.1 53.2 529.3 105.8 500.2 70.8 508.9 102.8 502.9 113.8 495.2 82.9 494.6 79.4 505.4 97.0 521.6 85.5 506.0 106.0 497.9 61.0 492.3 61.8 493.7 82.9 490.1 61.1 523.8 74.7 499.5 79.6 499.8 78.5 492.7 73.7 490.8 71.3 519.3 106.2 504.7 59.7 503.8 115.2 508.3 93.6 519.9 94.8 501.1 55.9 507.3 64.6 520.8 53.4 485.6 110.9 484.7 75.5 481.6 73.2 485.7 84.3 469.6 116.4 487.5 119.4 486.7 107.2 471.7 99.0 479.6"/></g>
<line x1="38.04" y1="530.87" x2="127.99" y2="451.95" stroke="#e4505f" stroke-width="1.25" stroke-dasharray="2.9,1.4"/>
<line x1="41.14" y1="520.53" x2="127.99" y2="494.01" stroke="#111" stroke-width="1.85"/>
<rect x="33.7" y="447.6" width="99.1" height="86.4" fill="none" stroke="#444" stroke-width="1.3"/>
<path d="M41.14 534v2M79.92 534v2M118.69 534v2M33.7 528.15h-2M33.7 500.94h-2M33.7 473.72h-2" stroke="#333" stroke-width="0.8"/>
<text x="41.14" y="544.5" class="k">0</text>
<text x="79.92" y="544.5" class="k">250</text>
<text x="118.69" y="544.5" class="k">500</text>
<text x="30.6" y="531.45" class="k ke">0</text>
<text x="30.6" y="504.24" class="k ke">200</text>
<text x="30.6" y="477.02" class="k ke">400</text>
<text x="83.25" y="553.5" class="a">True Value</text>
<text x="12.7" y="490.8" class="a" transform="rotate(-90 12.7 490.8)">Predicted Value</text>
<rect x="36.4" y="451" width="57.7" height="25.6" rx="1" fill="#fff" fill-opacity="0.85" stroke="#8c8c8c" stroke-width="0.7"/>
<circle cx="45.1" cy="455.2" r="2.6" fill="#0f79c2" fill-opacity="0.66" stroke="#fff" stroke-width="0.5"/>
<line x1="38.9" y1="463.2" x2="50.7" y2="463.2" stroke="#e4505f" stroke-width="1.25" stroke-dasharray="2.9,1.4"/>
<line x1="38.9" y1="471.7" x2="50.7" y2="471.7" stroke="#111" stroke-width="1.85"/>
<text x="55.7" y="457.5" class="l">Data Points</text>
<text x="55.7" y="465.75" class="l">Reference Line</text>
<text x="55.7" y="474" class="l">Fitted Line</text>
<text x="354.8" y="434.8" class="t">Fold 7</text>
<text x="354.8" y="445" class="t">R² = 0.17, MAE = 41.52</text>
<clipPath id="cp23"><rect x="310.3" y="447.6" width="89" height="86.4"/></clipPath>
<path d="M314.65 447.6V534M345.42 447.6V534M376.18 447.6V534M310.3 529.77H399.3M310.3 499.91H399.3M310.3 470.04H399.3" stroke="#f0f0f0" stroke-width="0.6" fill="none"/>
<g clip-path="url(#cp23)"><path class="sc" d="M329.7 527.7 333.5 519.9 319.8 529.2 330.7 528.0 326.3 523.1 322.6 528.9 318.1 524.3 315.4 522.3 320.6 523.6 334.2 524.0 315.5 522.3 322.8 528.1 317.6 527.4 322.3 517.2 334.1 515.7 334.5 526.9 317.5 524.2 324.2 523.5 322.8 529.3 316.0 511.9 320.1 515.9 333.9 517.9 335.7 523.8 330.2 517.1 328.1 522.7 315.5 512.3 317.3 525.3 315.6 529.1 326.0 519.5 326.9 523.4 315.1 523.8 315.7 528.9 318.8 523.5 319.1 519.6 325.8 517.8 324.2 519.3 324.8 512.1 335.5 517.2 321.5 520.0 321.5 528.0 332.7 512.8 327.2 519.5 331.8 528.9 322.0 520.6 331.5 516.7 331.9 520.7 323.1 523.2 317.2 529.6 335.0 516.4 332.0 526.8 316.9 518.1 333.4 521.2 336.5 522.9 333.9 524.4 328.4 515.0 317.0 516.9 319.6 529.7 316.2 529.5 319.8 519.6 316.5 514.3 315.4 516.7 329.9 527.6 331.4 526.7 318.5 521.0 336.5 518.9 316.5 523.0 326.9 529.4 327.6 524.3 333.1 525.6 321.3 515.0 327.1 521.6 317.1 529.2 322.9 524.9 334.0 527.6 325.4 526.6 350.1 528.9 316.6 527.8 353.3 525.5 330.4 524.8 318.1 524.9 317.3 526.7 337.7 529.2 315.9 526.0 340.0 528.0 342.0 528.0 352.5 527.3 318.7 527.5 322.0 526.3 315.7 525.9 321.2 528.9 315.7 525.0 346.2 525.2 321.5 529.0 323.0 526.6 322.6 524.9 336.2 528.5 350.3 526.2 331.7 528.6 354.4 526.8 337.9 529.3 340.4 525.4 337.6 525.1 343.1 529.2 336.7 527.0 322.0 526.2 352.9 528.8 328.4 528.0 321.0 528.6 320.8 528.6 330.1 526.2 328.5 528.6 347.1 526.5 365.1 526.0 373.1 524.4 374.0 528.0 387.6 527.6 395.6 526.4"/></g>
<line x1="314.35" y1="530.07" x2="395.25" y2="451.53" stroke="#e4505f" stroke-width="1.25" stroke-dasharray="2.9,1.4"/>
<line x1="314.65" y1="527.38" x2="395.25" y2="513.69" stroke="#111" stroke-width="1.85"/>
<rect x="310.3" y="447.6" width="89" height="86.4" fill="none" stroke="#444" stroke-width="1.3"/>
<path d="M314.65 534v2M345.42 534v2M376.18 534v2M310.3 529.77h-2M310.3 499.91h-2M310.3 470.04h-2" stroke="#333" stroke-width="0.8"/>
<text x="314.65" y="544.5" class="k">0</text>
<text x="345.42" y="544.5" class="k">1000</text>
<text x="376.18" y="544.5" class="k">2000</text>
<text x="306.5" y="533.07" class="k ke">0</text>
<text x="306.5" y="503.21" class="k ke">1000</text>
<text x="306.5" y="473.34" class="k ke">2000</text>
<text x="354.8" y="553.5" class="a">True Value</text>
<text x="284.1" y="490.8" class="a" transform="rotate(-90 284.1 490.8)">Predicted Value</text>
<rect x="313" y="451" width="57.7" height="25.6" rx="1" fill="#fff" fill-opacity="0.85" stroke="#8c8c8c" stroke-width="0.7"/>
<circle cx="321.7" cy="455.2" r="2.6" fill="#0f79c2" fill-opacity="0.66" stroke="#fff" stroke-width="0.5"/>
<line x1="315.5" y1="463.2" x2="327.3" y2="463.2" stroke="#e4505f" stroke-width="1.25" stroke-dasharray="2.9,1.4"/>
<line x1="315.5" y1="471.7" x2="327.3" y2="471.7" stroke="#111" stroke-width="1.85"/>
<text x="332.3" y="457.5" class="l">Data Points</text>
<text x="332.3" y="465.75" class="l">Reference Line</text>
<text x="332.3" y="474" class="l">Fitted Line</text>
<text x="219.75" y="434.8" class="t">Fold 8</text>
<text x="219.75" y="445" class="t">R² = 0.36, MAE = 47.27</text>
<clipPath id="cp13"><rect x="170.4" y="447.6" width="98.7" height="86.4"/></clipPath>
<path d="M177.81 447.6V534M216.43 447.6V534M255.04 447.6V534M170.4 528.15H269.1M170.4 500.94H269.1M170.4 473.72H269.1" stroke="#f0f0f0" stroke-width="0.6" fill="none"/>
<g clip-path="url(#cp13)"><path class="sc" d="M200.1 501.2 225.1 521.3 245.1 513.5 240.9 493.0 214.6 504.8 223.3 525.9 217.4 511.0 242.9 500.1 206.3 509.8 232.8 499.6 218.6 529.4 249.5 516.1 203.3 490.5 214.1 520.7 232.7 522.0 200.3 514.8 229.9 490.2 184.1 496.4 247.4 508.1 212.3 495.7 239.2 493.8 192.7 496.7 236.0 510.9 181.8 516.2 242.3 515.7 212.7 525.6 228.3 522.0 216.0 494.5 189.3 524.6 243.4 500.2 221.7 492.2 261.3 509.9 240.1 518.5 237.8 493.9 248.1 509.1 199.9 499.9 187.0 509.5 195.7 508.6 188.8 504.1 221.0 501.6 252.9 511.7 234.3 503.5 243.2 515.3 261.4 493.5 207.1 509.2 186.4 499.5 242.2 517.5 219.5 522.3 244.0 518.6 218.0 517.1 244.7 491.7 209.5 501.7 235.9 492.1 196.2 509.9 239.1 504.7 228.5 527.1 226.3 499.3 190.4 504.6 219.7 490.9 182.7 530.1 216.7 500.0 226.7 514.3 183.6 505.6 190.4 504.3 218.2 528.2 194.4 519.5 232.8 523.8 211.7 518.9 186.0 516.0 252.9 509.9 203.0 516.9 230.0 491.3 263.5 494.8 181.7 521.9 219.4 516.4 223.5 492.8 231.7 502.4 220.8 495.0 181.5 499.9 185.1 510.7 242.4 519.5 220.3 522.6 217.8 515.9 184.3 513.4 180.2 497.0 181.4 527.8 206.7 493.2 246.9 489.2 204.0 496.8 186.3 508.1 213.9 500.0 226.2 519.1 196.0 510.4 212.9 517.2 192.3 493.1 259.2 513.9 198.8 497.9 224.1 493.9 225.7 526.7 208.7 526.6 233.5 496.6 225.4 519.1 214.8 516.6 216.6 521.8 198.5 519.7 190.7 513.2 219.1 497.6 229.1 509.3 232.0 512.0 245.0 497.1 180.6 517.2 185.7 501.8 207.8 497.9 243.5 519.8 260.7 507.2 234.8 489.3 232.3 494.4 197.5 529.1 231.9 515.7 240.1 498.0 259.6 505.3 212.2 490.8 245.4 497.2 247.0 490.7 227.7 507.4 184.1 499.0 201.5 494.3 200.6 513.5 240.9 499.1 198.2 504.3 186.9 522.3 236.0 497.2 214.9 508.6 228.6 491.2 227.3 526.2 242.4 490.6 239.6 512.2 234.9 516.8 187.7 496.7 229.7 521.1 183.8 516.2 228.1 505.0 225.7 500.2 260.0 513.1 180.2 505.8 210.4 526.0 255.3 493.8 259.9 511.8 212.5 516.7 182.3 511.6 193.8 524.0 219.9 516.2 224.6 501.5 209.5 498.3 196.8 492.4 189.9 517.1 189.9 528.6 211.0 521.8 259.5 504.1 248.9 495.2 188.7 517.1 213.5 525.2 231.7 518.1 194.8 493.1 189.4 515.2 183.1 513.6 209.8 488.2 248.9 497.0 231.6 524.9 197.5 496.2 205.6 518.8 190.3 500.5 247.4 493.9 225.6 528.4 186.1 502.8 214.1 491.4 194.4 527.5 227.0 518.3 195.1 516.2 197.4 495.8 253.6 507.5 249.0 505.9 185.1 497.6 243.1 504.3 223.9 515.6 194.3 507.0 241.6 490.4 198.1 526.2 206.6 526.5 202.3 508.3 237.1 496.5 219.7 492.4 205.0 497.7 246.1 488.4 178.1 505.0 179.2 511.7 225.5 492.2 222.0 515.8 187.4 513.4 188.9 527.5 232.1 508.8 216.1 522.8 255.8 510.9 242.9 517.1 198.5 496.7 237.0 520.1 188.5 524.6 207.3 512.8 239.8 499.7 195.4 514.3 197.5 498.1 209.9 509.3 225.9 524.4 179.1 517.6 209.8 508.8 209.6 517.4 253.4 512.5 214.0 525.1 228.8 519.2 232.6 505.5 198.6 524.7 217.6 488.6 187.9 505.4 240.9 510.5 222.7 503.1 250.1 492.1 197.8 524.0 224.4 497.8 242.8 518.1 244.8 499.1 199.8 509.1 239.4 500.3 230.3 518.5 243.5 517.2 241.3 519.5 202.1 526.2 212.3 522.4 196.5 493.4 203.2 526.0 211.5 501.7 239.3 504.8 228.9 490.1 209.7 500.5 241.8 511.0 186.4 523.6 195.7 512.1 210.4 497.5 216.5 523.7 211.2 519.3 208.1 519.7 179.5 529.0 262.0 504.5 250.5 504.4 231.1 490.1 255.1 505.3 205.6 495.3 186.9 493.2 181.9 528.0 195.7 498.3 204.8 510.0 251.7 491.9 183.7 499.3 209.4 500.9 181.9 501.5 203.0 503.9 210.9 506.9 216.6 495.2 191.5 507.8 229.2 505.5 233.4 500.2 232.3 507.4 239.8 518.6 242.6 514.7 199.9 514.2 184.5 521.6 234.6 514.4 191.2 521.6 191.8 498.1 235.1 512.1 236.9 509.1 206.2 515.3 189.6 525.8 247.7 516.7 179.9 520.8 237.9 493.5 232.3 507.1 202.6 492.7 250.0 507.8 212.9 506.0 236.3 520.3 254.0 518.1 243.0 488.5 189.8 509.3 184.5 517.5 241.0 500.1 233.8 495.6 196.2 521.5 222.4 501.0 256.2 495.6 202.0 493.4 192.6 525.7 217.2 509.2 214.7 508.2 198.5 493.3 203.5 503.8 198.7 523.6 244.1 497.6 249.6 499.3 229.3 496.6 195.7 498.8 184.7 505.1 227.3 503.5 231.5 502.0 199.0 507.8 187.4 503.0 224.1 510.6 218.2 500.6 244.1 512.7 242.9 489.4 224.3 514.7 215.2 491.4 254.5 495.3 247.0 508.5 231.3 522.4 226.8 524.9 185.9 507.4 224.5 527.3 233.6 512.7 225.4 525.0 233.3 510.2 214.6 507.4 202.5 489.9 181.5 515.1 232.6 513.9 225.2 506.0 229.9 525.4 219.0 520.6 182.0 522.5 184.2 513.4 203.4 503.2 236.7 498.4 194.8 524.5 217.3 503.2 243.0 518.0 191.8 501.7 238.0 496.9 220.4 519.2 251.1 490.6 252.8 511.7 242.5 492.7 210.2 497.0 250.6 510.2 226.0 519.9 244.8 506.7 224.0 507.6 204.7 493.5 195.8 504.9 205.1 521.5 188.8 519.4 227.5 523.7 186.2 524.7 186.9 523.8 187.3 496.1 189.4 522.2 242.9 505.0 237.6 498.4 260.3 508.3 245.0 517.3 238.2 501.5 185.0 502.6 226.1 497.6 222.0 523.8 215.9 493.4 240.0 515.2 229.6 504.5 208.0 490.9 184.9 513.6 189.2 509.0 246.5 494.1 201.6 521.9 183.3 504.0 211.8 504.8 187.1 516.0 242.2 494.1 209.2 516.3 250.7 496.5 198.6 512.9 256.0 508.6 207.5 513.9 191.8 508.5 233.1 524.3 186.3 502.3 240.9 507.4 212.9 521.4 239.6 492.9 215.8 526.9 184.2 501.9 223.9 515.1 185.6 496.1 196.3 528.0 211.3 521.7 225.3 518.8 193.6 519.0 235.5 500.1 210.0 505.6 207.5 512.3 220.5 523.1 180.4 519.2 197.4 518.5 188.9 504.6 257.6 498.2 215.4 509.0 210.4 489.2 202.2 492.0 193.4 498.8 258.7 514.6 199.4 488.8 198.6 512.2 208.9 502.6 255.4 508.7 213.3 494.4 211.4 491.2 225.7 493.7 207.0 523.9 197.6 500.4 253.5 498.5 209.1 523.7 184.2 503.1 206.6 500.9 216.6 529.1 205.7 526.1 188.7 528.1 194.8 504.9 238.4 517.2 219.1 511.3 261.5 498.8 196.6 527.0 220.0 528.7 192.5 515.3 205.7 497.1 189.6 518.2 224.8 503.1 181.4 509.5 192.5 529.0 232.1 501.0 185.5 527.1 261.4 510.2 233.6 502.5 197.3 492.7 196.7 515.2 228.8 493.3 221.3 515.2 244.7 506.7 191.7 523.1 218.3 506.5 213.0 499.4 193.2 507.8 194.9 514.8 252.8 503.3 227.7 496.1 180.2 522.9 228.6 498.7 235.6 519.4 242.2 513.8 215.1 523.6 224.4 495.9 245.6 504.5 189.7 501.7 221.2 507.7 242.4 490.9 222.4 521.8 208.3 495.4 196.8 507.0 208.8 527.5 201.5 505.7 239.1 507.6 207.8 507.9 184.1 505.4 209.2 504.8 235.8 521.7 197.5 527.2 240.2 506.1 214.6 501.1 214.2 499.0 235.6 501.0 203.9 516.8 242.0 490.1 232.1 515.8 207.3 505.0 183.8 513.3 219.0 495.4 219.5 517.8 186.8 494.7 197.1 518.8 204.8 515.1 222.4 507.1 214.4 497.6 218.3 508.0 179.0 512.2 204.1 513.5 239.4 492.2 196.7 529.4 218.8 494.7 229.6 510.1 238.9 498.8 183.6 522.0 235.6 487.6 181.2 496.7 234.3 499.1 205.3 514.0 196.8 510.9 205.8 511.9 236.2 494.4 206.4 503.0 248.6 495.5 212.6 491.1 222.3 521.2 251.1 500.3 198.7 495.4 178.4 505.4 217.9 491.8 204.5 518.8 217.4 499.3 211.1 507.3 200.4 522.6 201.5 496.6 208.0 518.0 227.8 516.7 208.7 524.0 234.7 497.3 256.8 505.2 239.3 514.0 187.4 496.1 219.9 519.3 182.0 511.8 208.0 493.0 230.3 503.0 232.4 523.1 236.4 519.6 183.8 495.6 195.4 511.9 241.6 492.1 178.7 510.5 204.8 525.2 185.8 516.1 225.0 508.0 240.2 490.8 197.9 496.9 207.3 504.5 210.1 510.1 214.1 517.7 233.8 512.9 210.3 503.4 191.1 506.6 222.3 493.1 255.1 517.3 210.8 499.5 179.0 506.5 245.3 491.9 230.4 496.0 220.0 509.3 182.8 499.6 227.4 522.1 250.8 503.8 235.6 512.6 230.0 520.3 191.1 513.3 208.5 500.3 203.6 510.2 209.1 507.8 187.3 499.5 242.9 490.1 218.3 517.3 184.9 510.3 216.8 503.4 260.4 511.5 193.6 490.9 214.2 511.5 232.4 520.3 199.2 509.3 177.9 525.7 225.1 524.4 201.8 521.6 208.4 501.2 204.0 513.4 220.6 496.7 261.8 506.7 246.2 498.7 225.3 522.3 180.9 520.8 242.7 518.1 185.0 512.7 247.7 503.8 249.4 516.1 227.9 498.1 216.6 524.4 191.4 496.2 211.3 498.9 201.7 509.6 197.9 507.5 178.8 508.3 211.8 520.5 255.2 498.8 223.9 505.4 246.8 488.7 220.8 496.2 185.8 527.9 227.1 483.3 183.2 485.8 209.9 484.3 241.1 481.3 236.2 483.3 258.9 490.9 254.6 487.6 243.6 471.7 235.4 479.6"/></g>
<line x1="174.72" y1="530.87" x2="264.31" y2="451.95" stroke="#e4505f" stroke-width="1.25" stroke-dasharray="2.9,1.4"/>
<line x1="177.81" y1="520.53" x2="264.31" y2="494.01" stroke="#111" stroke-width="1.85"/>
<rect x="170.4" y="447.6" width="98.7" height="86.4" fill="none" stroke="#444" stroke-width="1.3"/>
<path d="M177.81 534v2M216.43 534v2M255.04 534v2M170.4 528.15h-2M170.4 500.94h-2M170.4 473.72h-2" stroke="#333" stroke-width="0.8"/>
<text x="177.81" y="544.5" class="k">0</text>
<text x="216.43" y="544.5" class="k">250</text>
<text x="255.04" y="544.5" class="k">500</text>
<text x="167.3" y="531.45" class="k ke">0</text>
<text x="167.3" y="504.24" class="k ke">200</text>
<text x="167.3" y="477.02" class="k ke">400</text>
<text x="219.75" y="553.5" class="a">True Value</text>
<text x="149.4" y="490.8" class="a" transform="rotate(-90 149.4 490.8)">Predicted Value</text>
<rect x="173.1" y="451" width="57.7" height="25.6" rx="1" fill="#fff" fill-opacity="0.85" stroke="#8c8c8c" stroke-width="0.7"/>
<circle cx="181.8" cy="455.2" r="2.6" fill="#0f79c2" fill-opacity="0.66" stroke="#fff" stroke-width="0.5"/>
<line x1="175.6" y1="463.2" x2="187.4" y2="463.2" stroke="#e4505f" stroke-width="1.25" stroke-dasharray="2.9,1.4"/>
<line x1="175.6" y1="471.7" x2="187.4" y2="471.7" stroke="#111" stroke-width="1.85"/>
<text x="192.4" y="457.5" class="l">Data Points</text>
<text x="192.4" y="465.75" class="l">Reference Line</text>
<text x="192.4" y="474" class="l">Fitted Line</text>
<text x="495.1" y="434.8" class="t">Fold 8</text>
<text x="495.1" y="445" class="t">R² = 0.21, MAE = 40.78</text>
<clipPath id="cp33"><rect x="450.2" y="447.6" width="89.8" height="86.4"/></clipPath>
<path d="M454.61 447.6V534M487.8 447.6V534M520.98 447.6V534M450.2 529.75H540M450.2 497.82H540M450.2 465.9H540" stroke="#f0f0f0" stroke-width="0.6" fill="none"/>
<g clip-path="url(#cp33)"><path class="sc" d="M469.1 513.6 457.8 518.2 473.5 515.8 455.4 527.1 458.8 514.6 477.2 514.7 456.7 521.9 458.1 527.3 457.1 514.2 458.1 516.2 461.1 520.2 457.8 529.7 467.1 516.0 469.0 522.5 457.4 523.3 472.5 529.1 464.1 528.0 469.1 513.1 470.8 522.4 457.1 523.3 476.5 529.2 455.1 514.3 474.7 523.5 459.4 519.4 473.7 517.1 457.5 516.8 476.8 519.1 466.8 528.4 458.6 527.1 456.9 518.6 467.4 528.5 456.3 518.6 477.5 523.1 471.9 520.0 460.7 524.5 456.3 515.1 454.8 525.0 473.6 517.7 463.7 523.8 467.4 520.8 467.1 524.1 464.9 516.2 466.2 512.7 455.7 529.6 457.3 512.4 469.6 520.5 476.4 513.0 477.5 512.8 464.2 512.2 474.3 526.3 474.3 526.4 471.9 523.4 475.1 520.1 463.6 513.7 459.9 514.6 455.3 522.4 465.0 520.4 466.5 526.9 471.7 527.5 468.2 522.0 473.5 527.4 472.1 512.6 454.7 513.7 470.2 518.0 473.0 524.7 456.3 527.4 468.0 513.8 456.2 513.8 471.0 518.8 474.2 524.8 473.1 522.2 454.9 529.7 486.3 525.7 481.9 529.2 483.9 524.3 456.9 526.2 458.6 527.0 458.7 526.4 487.9 527.2 475.1 524.8 462.7 524.5 482.4 529.3 474.2 527.4 490.8 528.5 455.1 526.5 469.5 528.3 459.9 525.2 460.6 528.5 487.9 524.8 468.7 528.3 472.9 527.6 483.4 524.7 466.0 526.9 485.7 529.0 456.4 526.4 459.5 524.4 482.4 526.2 461.7 524.5 475.3 526.9 481.8 524.6 477.9 529.1 464.0 524.5 489.7 528.2 487.6 524.9 464.3 526.3 485.5 528.8 478.6 524.4 454.8 529.1 477.0 528.6 469.1 526.5 463.0 524.8 487.7 525.9 499.4 528.6 517.3 527.4 530.6 525.0 536.4 528.4"/></g>
<line x1="454.28" y1="530.07" x2="535.92" y2="451.53" stroke="#e4505f" stroke-width="1.25" stroke-dasharray="2.9,1.4"/>
<line x1="454.61" y1="528.64" x2="535.92" y2="511.11" stroke="#111" stroke-width="1.85"/>
<rect x="450.2" y="447.6" width="89.8" height="86.4" fill="none" stroke="#444" stroke-width="1.3"/>
<path d="M454.61 534v2M487.8 534v2M520.98 534v2M450.2 529.75h-2M450.2 497.82h-2M450.2 465.9h-2" stroke="#333" stroke-width="0.8"/>
<text x="454.61" y="544.5" class="k">0</text>
<text x="487.8" y="544.5" class="k">1000</text>
<text x="520.98" y="544.5" class="k">2000</text>
<text x="446.4" y="533.05" class="k ke">0</text>
<text x="446.4" y="501.12" class="k ke">1000</text>
<text x="446.4" y="469.2" class="k ke">2000</text>
<text x="495.1" y="553.5" class="a">True Value</text>
<text x="424" y="490.8" class="a" transform="rotate(-90 424 490.8)">Predicted Value</text>
<rect x="452.9" y="451" width="57.7" height="25.6" rx="1" fill="#fff" fill-opacity="0.85" stroke="#8c8c8c" stroke-width="0.7"/>
<circle cx="461.6" cy="455.2" r="2.6" fill="#0f79c2" fill-opacity="0.66" stroke="#fff" stroke-width="0.5"/>
<line x1="455.4" y1="463.2" x2="467.2" y2="463.2" stroke="#e4505f" stroke-width="1.25" stroke-dasharray="2.9,1.4"/>
<line x1="455.4" y1="471.7" x2="467.2" y2="471.7" stroke="#111" stroke-width="1.85"/>
<text x="472.2" y="457.5" class="l">Data Points</text>
<text x="472.2" y="465.75" class="l">Reference Line</text>
<text x="472.2" y="474" class="l">Fitted Line</text>
<text x="83.25" y="574.3" class="t">Fold 9</text>
<text x="83.25" y="584.5" class="t">R² = 0.37, MAE = 47.63</text>
<clipPath id="cp04"><rect x="33.7" y="587.1" width="99.1" height="86.4"/></clipPath>
<path d="M41.14 587.1V673.5M79.92 587.1V673.5M118.69 587.1V673.5M33.7 667.65H132.8M33.7 640.44H132.8M33.7 613.22H132.8" stroke="#f0f0f0" stroke-width="0.6" fill="none"/>
<g clip-path="url(#cp04)"><path class="sc" d="M51.8 638.0 81.1 657.4 91.9 634.9 105.9 636.4 109.7 657.3 65.7 656.7 69.1 635.3 92.0 639.1 85.2 655.3 80.8 641.5 87.3 653.6 59.1 651.7 62.7 645.5 95.8 633.8 48.7 650.1 85.9 653.3 92.3 650.7 117.5 651.5 85.6 631.6 109.5 645.9 103.5 652.7 106.1 642.2 75.9 663.2 43.3 642.7 46.4 650.6 52.0 659.4 58.5 658.8 44.8 638.7 92.4 647.6 97.0 663.0 53.8 634.9 71.6 642.0 63.6 652.1 52.8 654.0 43.5 653.3 78.2 652.2 72.4 660.4 49.9 653.7 51.5 667.7 97.6 652.1 77.7 653.8 103.5 632.3 41.3 638.4 56.7 635.7 94.1 642.4 50.7 661.6 63.9 647.6 49.0 642.3 68.2 647.3 51.9 661.3 84.5 633.8 72.9 664.5 82.1 666.7 48.9 635.2 48.3 660.0 81.6 658.6 41.4 655.7 116.4 646.7 81.6 653.8 92.2 648.0 49.9 647.4 103.4 627.8 69.1 667.6 90.4 645.5 59.3 658.2 88.4 662.4 83.8 643.9 92.6 645.7 48.5 638.9 51.7 656.0 125.8 651.6 53.0 653.5 51.4 641.1 53.3 650.7 55.6 661.6 73.7 641.8 70.8 633.2 44.8 667.4 116.9 646.6 63.7 642.5 71.4 657.5 81.5 631.0 53.5 648.6 97.2 652.6 123.6 637.4 66.3 634.5 44.0 640.0 81.0 659.7 79.9 664.6 109.2 659.5 99.0 658.8 50.6 665.6 91.1 653.1 101.1 633.1 65.2 643.0 56.3 638.4 81.5 627.3 112.5 645.9 42.6 662.3 46.7 662.5 123.7 642.9 106.4 647.4 56.1 645.3 101.3 636.7 118.9 633.9 55.9 632.2 88.5 627.9 52.0 650.7 73.8 649.9 101.1 658.5 70.6 647.6 102.3 653.8 103.3 635.1 83.5 653.1 41.6 657.4 102.5 660.2 115.9 644.3 41.8 663.0 52.4 641.6 52.6 632.6 65.7 656.2 66.6 640.8 113.9 648.6 96.3 665.3 101.2 651.4 71.4 655.5 47.1 654.3 69.5 638.5 68.7 636.0 72.5 649.8 80.8 649.6 67.6 654.7 96.9 645.4 101.9 653.4 121.2 642.5 100.7 637.3 86.2 653.9 46.2 659.3 78.6 630.9 68.3 667.3 83.6 633.6 45.0 655.5 75.4 653.0 106.6 635.7 85.6 649.7 61.0 664.4 73.1 659.8 63.3 636.4 92.8 658.1 61.0 639.0 45.1 662.0 46.1 644.4 81.6 653.3 74.7 660.7 73.8 629.8 51.5 654.2 101.4 628.5 97.5 653.5 46.6 638.0 71.0 646.0 56.7 635.1 125.9 650.2 52.9 653.2 77.6 649.0 88.4 657.7 43.7 648.7 56.5 654.1 86.4 659.1 99.4 649.2 88.5 642.2 76.3 660.0 81.1 663.8 118.3 634.9 41.3 651.1 106.3 655.9 68.8 645.0 52.4 640.4 88.3 631.0 80.3 638.3 45.2 666.9 71.5 633.7 56.7 648.6 51.3 657.1 94.2 631.4 95.9 655.4 103.5 662.2 47.2 656.6 44.8 663.5 42.5 654.9 106.1 654.7 99.2 646.1 111.1 650.3 48.6 651.0 67.6 651.3 57.4 642.0 111.1 641.4 87.6 656.9 102.7 646.5 76.5 646.1 92.3 630.5 78.5 628.1 72.5 660.9 55.7 654.3 46.0 656.7 48.1 640.0 109.6 636.2 121.6 638.4 49.7 635.5 63.2 656.3 55.7 667.2 46.7 657.7 101.6 652.4 70.8 662.8 72.1 631.0 50.0 638.7 64.9 664.4 58.8 655.8 59.2 634.8 121.6 652.2 54.4 650.4 86.5 662.5 107.8 655.9 86.8 636.1 50.8 668.2 81.1 645.0 61.9 650.0 72.4 648.2 87.1 633.4 74.9 655.4 73.1 646.1 108.4 651.4 82.5 639.1 125.8 648.4 85.0 653.8 97.6 639.4 124.6 642.8 85.5 640.2 71.1 627.1 82.1 649.3 83.0 644.2 43.2 655.2 54.5 632.0 107.4 631.7 68.9 640.9 95.9 650.9 114.6 654.9 103.3 633.2 70.7 654.4 102.3 626.8 86.6 639.1 42.4 654.9 63.8 636.7 60.9 638.1 91.8 644.8 72.2 654.2 61.0 647.2 44.0 660.3 80.7 633.6 42.1 657.9 90.3 665.4 122.7 637.8 65.5 663.4 52.7 662.6 75.4 629.8 105.4 656.3 62.7 648.3 52.5 661.1 49.4 666.7 106.6 648.0 127.4 642.6 90.5 658.9 108.8 640.9 51.2 645.2 105.0 644.8 116.4 645.0 96.4 650.9 95.4 630.3 61.4 647.2 101.0 648.1 79.7 663.4 44.1 663.0 94.6 659.1 59.5 663.5 80.4 645.0 76.0 650.1 63.5 663.4 69.5 642.3 62.0 648.1 78.4 629.9 64.6 663.6 78.6 633.2 44.3 644.5 92.2 649.4 49.4 640.6 64.0 647.7 91.9 653.0 81.4 629.2 110.9 656.5 65.6 636.5 101.2 645.8 126.5 650.4 74.7 661.0 68.2 665.3 88.4 629.6 54.0 659.2 112.9 635.0 84.4 650.0 92.4 629.6 90.2 630.3 42.6 662.0 97.7 663.3 89.1 657.8 71.6 640.3 53.1 660.2 63.6 662.2 47.3 636.8 80.9 642.6 68.7 666.0 112.3 628.8 105.6 638.9 110.4 648.7 117.1 642.3 50.3 656.7 89.0 659.5 127.6 652.1 82.7 636.9 69.7 632.1 102.3 649.6 43.8 640.4 111.5 651.6 66.4 648.7 77.7 649.6 43.8 649.7 115.8 649.8 41.6 639.4 77.8 635.8 74.0 645.0 50.3 644.8 83.1 638.4 42.0 645.4 68.5 668.0 76.9 638.9 83.7 658.2 67.5 636.7 106.6 660.6 82.2 646.0 71.2 628.8 100.9 652.6 85.8 653.3 95.7 643.2 59.7 660.3 122.6 653.0 62.3 655.4 125.5 646.1 105.2 659.7 101.6 662.4 86.1 632.9 54.1 655.5 42.5 657.9 82.0 655.7 75.5 637.6 104.9 635.3 53.5 635.4 74.3 663.4 117.4 636.0 115.5 657.2 53.5 639.3 100.2 652.1 49.7 650.3 78.6 633.4 89.3 634.0 46.4 641.1 112.9 657.8 58.9 651.0 86.1 655.6 102.6 631.0 111.8 653.7 116.3 648.8 49.8 646.1 112.9 636.7 45.1 636.3 64.4 649.5 102.5 644.4 50.4 636.3 69.8 629.7 89.1 659.4 87.8 657.6 107.9 659.1 44.0 657.4 106.9 658.7 97.0 657.5 56.1 654.6 57.9 651.9 82.3 645.9 51.5 658.7 91.0 653.4 114.7 631.6 83.9 646.1 91.8 656.1 117.9 651.6 63.3 642.0 42.5 662.1 95.1 628.6 89.7 634.9 85.1 640.7 107.2 627.9 58.6 662.1 50.8 641.4 108.6 635.5 85.5 657.8 41.7 654.3 101.7 633.8 93.5 649.0 75.9 627.5 63.2 655.2 104.5 636.6 86.6 645.8 79.5 654.2 50.9 646.5 119.9 635.2 42.2 644.9 113.4 643.1 59.0 654.1 90.2 650.7 60.8 652.4 77.5 641.1 111.3 641.4 78.3 650.9 74.7 635.7 91.4 665.8 67.8 652.7 107.3 653.1 48.8 662.5 108.9 659.4 49.7 643.7 51.8 655.7 47.8 656.5 60.0 665.1 96.9 638.8 108.0 640.9 111.9 634.6 101.8 638.3 108.0 628.7 87.9 657.2 104.3 654.3 88.9 646.4 65.0 663.1 52.8 656.7 49.1 663.9 104.2 661.1 90.7 643.0 79.5 639.8 123.0 643.6 49.7 664.4 98.4 654.0 41.6 656.3 70.6 644.1 116.3 653.1 62.9 652.3 106.7 627.6 78.6 643.8 44.7 649.1 92.5 652.7 66.1 639.4 107.9 645.2 73.6 636.4 76.3 640.0 53.0 638.6 107.5 646.9 103.5 631.7 109.3 628.3 113.4 632.9 63.3 659.2 53.8 653.8 49.4 665.1 100.3 660.8 58.4 631.7 76.8 667.9 44.5 660.3 58.5 665.6 90.0 649.7 71.9 664.3 102.2 626.2 96.1 657.9 77.5 638.8 59.4 639.8 102.8 636.5 104.1 651.0 58.3 662.7 106.8 641.5 126.3 649.2 93.5 660.3 106.0 652.4 85.5 656.7 124.5 647.1 97.7 635.5 82.8 657.8 61.9 650.4 111.9 643.3 84.1 634.3 85.2 650.4 87.2 634.0 98.1 663.7 67.8 639.1 103.2 633.3 56.0 665.2 111.4 650.5 95.2 639.3 111.2 629.4 74.4 635.7 51.1 667.0 105.6 650.3 101.1 660.4 44.3 668.6 111.7 642.0 59.8 646.5 113.5 653.0 89.0 658.4 81.9 654.4 60.7 669.2 46.1 658.8 97.3 664.3 87.9 646.6 63.3 650.6 65.3 650.3 57.9 666.3 94.3 638.4 51.6 644.0 109.4 647.0 120.5 641.7 95.8 634.1 107.3 636.9 101.2 655.5 69.7 662.3 61.7 658.2 103.1 630.4 104.9 628.6 84.9 650.9 72.5 637.8 63.2 637.8 105.8 659.5 89.6 652.6 57.7 642.2 99.4 660.1 92.0 630.8 46.8 651.1 107.7 657.2 87.7 662.4 57.0 648.3 108.1 647.5 82.1 652.4 104.8 645.2 85.0 659.8 57.1 660.1 56.2 657.0 99.2 642.9 75.7 637.2 43.2 645.3 55.1 636.9 80.7 669.1 108.5 646.3 64.4 643.0 106.8 640.7 85.0 658.1 103.9 634.4 77.4 631.6 95.8 653.7 109.4 653.0 92.1 651.6 77.2 630.6 102.7 650.4 42.4 659.9 108.0 652.3 104.9 655.8 99.3 645.1 86.5 629.1 104.4 659.0 89.6 645.9 80.5 633.5 56.3 637.2 81.3 656.1 61.5 646.7 87.9 634.5 62.4 662.2 117.0 643.1 66.8 657.1 59.5 630.9 60.2 656.3 109.3 633.5 105.4 656.0 81.7 638.1 99.0 629.6 82.6 638.4 47.3 650.0 81.2 664.8 58.9 640.8 59.7 646.4 103.0 643.1 45.2 626.9 100.9 624.3 84.4 616.0 80.5 625.2 74.1 625.3 115.4 625.4 47.5 629.1 107.2 611.2 99.0 619.1"/></g>
<line x1="38.04" y1="670.37" x2="127.99" y2="591.45" stroke="#e4505f" stroke-width="1.25" stroke-dasharray="2.9,1.4"/>
<line x1="41.14" y1="660.03" x2="127.99" y2="633.51" stroke="#111" stroke-width="1.85"/>
<rect x="33.7" y="587.1" width="99.1" height="86.4" fill="none" stroke="#444" stroke-width="1.3"/>
<path d="M41.14 673.5v2M79.92 673.5v2M118.69 673.5v2M33.7 667.65h-2M33.7 640.44h-2M33.7 613.22h-2" stroke="#333" stroke-width="0.8"/>
<text x="41.14" y="684" class="k">0</text>
<text x="79.92" y="684" class="k">250</text>
<text x="118.69" y="684" class="k">500</text>
<text x="30.6" y="670.95" class="k ke">0</text>
<text x="30.6" y="643.74" class="k ke">200</text>
<text x="30.6" y="616.52" class="k ke">400</text>
<text x="83.25" y="693" class="a">True Value</text>
<text x="12.7" y="630.3" class="a" transform="rotate(-90 12.7 630.3)">Predicted Value</text>
<rect x="36.4" y="590.5" width="57.7" height="25.6" rx="1" fill="#fff" fill-opacity="0.85" stroke="#8c8c8c" stroke-width="0.7"/>
<circle cx="45.1" cy="594.7" r="2.6" fill="#0f79c2" fill-opacity="0.66" stroke="#fff" stroke-width="0.5"/>
<line x1="38.9" y1="602.7" x2="50.7" y2="602.7" stroke="#e4505f" stroke-width="1.25" stroke-dasharray="2.9,1.4"/>
<line x1="38.9" y1="611.2" x2="50.7" y2="611.2" stroke="#111" stroke-width="1.85"/>
<text x="55.7" y="597" class="l">Data Points</text>
<text x="55.7" y="605.25" class="l">Reference Line</text>
<text x="55.7" y="613.5" class="l">Fitted Line</text>
<text x="354.8" y="574.3" class="t">Fold 9</text>
<text x="354.8" y="584.5" class="t">R² = 0.21, MAE = 41.08</text>
<clipPath id="cp24"><rect x="310.3" y="587.1" width="89" height="86.4"/></clipPath>
<path d="M314.76 587.1V673.5M356.04 587.1V673.5M397.32 587.1V673.5M310.3 669.17H399.3M310.3 629.1H399.3M310.3 589.02H399.3" stroke="#f0f0f0" stroke-width="0.6" fill="none"/>
<g clip-path="url(#cp24)"><path class="sc" d="M320.2 653.5 337.1 666.4 320.0 668.7 330.2 650.4 340.4 665.4 342.9 663.2 338.9 667.7 316.2 660.8 328.5 652.7 320.4 657.8 339.4 656.6 326.0 662.1 332.9 665.0 323.0 667.9 340.7 664.3 338.8 663.7 315.9 650.5 320.4 660.8 343.9 667.4 332.9 664.3 317.7 668.5 335.9 668.8 343.8 667.9 319.6 656.4 333.8 660.8 327.1 654.7 338.1 669.0 319.2 650.7 315.8 663.4 314.9 652.3 331.4 656.1 322.8 668.3 343.6 659.8 339.8 668.9 340.5 661.1 320.0 657.1 342.5 652.5 328.1 647.2 331.3 657.3 316.1 657.1 336.0 668.8 335.0 668.7 332.8 661.8 331.7 668.5 328.3 668.6 327.6 654.9 344.3 668.1 333.6 649.1 322.0 660.0 315.8 667.1 333.4 652.3 327.3 649.4 323.8 650.8 328.3 659.1 338.9 647.0 316.2 652.0 344.8 661.8 340.7 653.7 331.2 653.8 345.7 656.0 321.3 659.8 326.3 664.9 318.9 665.6 325.2 655.4 337.7 649.3 337.6 668.2 336.2 668.8 333.4 650.5 326.1 661.1 326.0 660.5 327.9 661.6 343.4 665.6 320.5 663.3 314.9 663.5 315.9 667.4 340.6 667.7 358.0 662.5 335.1 664.5 339.1 664.1 340.8 663.0 356.4 667.5 356.3 663.4 354.3 665.1 328.8 666.1 345.5 667.5 326.2 662.8 358.5 665.4 337.6 662.8 331.8 662.5 319.3 667.1 338.8 666.2 355.0 668.3 353.5 666.8 320.9 667.2 351.0 663.8 336.1 664.0 328.3 666.6 315.9 668.0 318.2 663.1 319.3 667.2 348.8 667.7 322.5 664.9 355.7 663.9 330.8 663.6 325.6 662.9 339.6 664.0 319.1 665.4 343.9 663.7 331.4 666.5 359.8 663.0 322.3 666.3 336.1 666.9 370.5 665.0 377.9 662.0 392.4 665.0 395.5 666.0"/></g>
<line x1="314.35" y1="669.57" x2="395.25" y2="591.03" stroke="#e4505f" stroke-width="1.25" stroke-dasharray="2.9,1.4"/>
<line x1="314.76" y1="666.97" x2="395.25" y2="650.09" stroke="#111" stroke-width="1.85"/>
<rect x="310.3" y="587.1" width="89" height="86.4" fill="none" stroke="#444" stroke-width="1.3"/>
<path d="M314.76 673.5v2M356.04 673.5v2M397.32 673.5v2M310.3 669.17h-2M310.3 629.1h-2M310.3 589.02h-2" stroke="#333" stroke-width="0.8"/>
<text x="314.76" y="684" class="k">0</text>
<text x="356.04" y="684" class="k">1000</text>
<text x="397.32" y="684" class="k">2000</text>
<text x="306.5" y="672.47" class="k ke">0</text>
<text x="306.5" y="632.4" class="k ke">1000</text>
<text x="306.5" y="592.32" class="k ke">2000</text>
<text x="354.8" y="693" class="a">True Value</text>
<text x="284.1" y="630.3" class="a" transform="rotate(-90 284.1 630.3)">Predicted Value</text>
<rect x="313" y="590.5" width="57.7" height="25.6" rx="1" fill="#fff" fill-opacity="0.85" stroke="#8c8c8c" stroke-width="0.7"/>
<circle cx="321.7" cy="594.7" r="2.6" fill="#0f79c2" fill-opacity="0.66" stroke="#fff" stroke-width="0.5"/>
<line x1="315.5" y1="602.7" x2="327.3" y2="602.7" stroke="#e4505f" stroke-width="1.25" stroke-dasharray="2.9,1.4"/>
<line x1="315.5" y1="611.2" x2="327.3" y2="611.2" stroke="#111" stroke-width="1.85"/>
<text x="332.3" y="597" class="l">Data Points</text>
<text x="332.3" y="605.25" class="l">Reference Line</text>
<text x="332.3" y="613.5" class="l">Fitted Line</text>
<text x="219.75" y="574.3" class="t">Fold 10</text>
<text x="219.75" y="584.5" class="t">R² = 0.36, MAE = 47.24</text>
<clipPath id="cp14"><rect x="170.4" y="587.1" width="98.7" height="86.4"/></clipPath>
<path d="M177.81 587.1V673.5M216.43 587.1V673.5M255.04 587.1V673.5M170.4 667.65H269.1M170.4 640.44H269.1M170.4 613.22H269.1" stroke="#f0f0f0" stroke-width="0.6" fill="none"/>
<g clip-path="url(#cp14)"><path class="sc" d="M203.6 631.8 217.1 660.9 230.1 664.0 252.5 639.3 184.5 651.6 195.7 641.7 240.3 634.9 238.0 628.4 247.2 629.9 220.0 645.8 190.5 646.7 202.8 647.3 186.9 646.3 188.9 654.0 180.8 655.7 203.9 650.4 252.7 635.4 183.9 641.1 228.6 636.1 178.4 643.6 185.2 667.1 219.9 660.9 244.8 632.7 234.7 643.1 201.9 656.2 211.4 660.8 222.2 664.4 240.5 660.7 201.0 660.6 249.6 642.6 224.1 640.1 251.3 637.0 231.8 660.8 189.5 650.8 213.5 669.4 200.8 657.7 200.7 668.4 191.5 647.2 219.3 657.1 183.1 637.7 246.4 649.8 200.3 636.5 236.5 642.3 224.2 641.7 196.6 633.9 190.7 640.4 201.3 637.9 181.0 652.3 251.9 635.7 217.1 665.8 245.0 651.2 217.1 643.1 219.8 647.0 262.6 651.4 263.7 646.2 215.8 631.1 241.7 653.0 197.6 631.2 239.9 650.0 207.0 632.7 201.9 637.8 214.2 651.8 204.0 639.7 184.8 668.3 184.6 653.2 182.4 640.8 226.2 664.4 187.5 643.8 246.2 652.9 193.7 667.2 180.5 656.9 179.9 659.8 180.3 666.7 238.7 663.7 225.6 655.1 230.7 660.2 193.3 645.1 215.2 660.2 237.1 637.6 227.8 640.9 222.0 637.2 195.9 664.4 191.2 645.9 200.1 658.1 237.1 643.1 215.3 650.5 180.5 661.7 210.3 650.6 201.8 669.3 232.7 660.0 189.7 653.5 195.2 658.8 251.9 643.3 188.3 651.2 187.4 638.8 256.4 643.7 235.8 646.0 250.2 641.0 230.4 652.6 245.4 641.3 220.5 633.2 185.4 648.8 252.1 636.3 241.5 642.5 234.9 650.3 251.7 639.7 191.0 637.5 189.1 656.0 195.8 665.4 215.5 642.1 216.2 646.8 195.8 633.9 225.6 665.8 202.8 636.5 184.2 660.7 228.0 636.1 246.8 647.3 212.8 667.0 202.1 656.6 204.2 639.8 233.0 651.9 184.9 664.2 189.5 644.5 196.4 656.3 191.9 647.3 242.2 652.4 206.5 643.0 211.3 660.0 235.6 640.7 179.9 646.1 201.6 648.5 252.9 656.1 260.1 637.4 178.4 657.8 210.1 650.2 243.4 640.6 219.2 649.7 182.5 665.9 181.0 657.8 194.4 657.0 188.2 636.2 212.7 652.0 183.5 659.0 212.5 643.2 224.7 640.3 234.0 635.1 210.2 658.4 190.7 659.2 198.8 645.5 182.9 640.0 236.5 647.3 193.9 648.7 244.2 656.9 178.6 652.1 206.4 629.0 196.0 654.3 189.9 652.3 244.3 634.4 251.7 649.1 253.2 632.0 194.2 630.9 202.8 652.0 244.1 646.1 189.1 641.6 200.0 661.3 238.5 643.0 181.1 667.5 256.1 648.2 206.3 662.5 233.1 629.4 224.5 657.8 249.4 644.1 227.3 636.8 194.5 635.4 229.3 657.9 253.9 652.9 231.2 633.3 230.2 629.4 212.9 650.6 247.3 626.1 257.3 637.3 202.4 664.0 249.2 633.7 217.2 647.8 227.3 642.5 250.8 635.9 240.8 645.2 234.5 641.8 219.1 655.9 231.3 634.8 211.4 627.5 252.6 643.1 244.7 649.2 241.7 649.5 180.6 646.8 254.2 642.5 194.2 664.3 215.1 630.8 232.9 634.8 238.4 628.5 257.1 643.1 258.6 647.2 218.6 630.9 224.0 662.1 204.6 659.2 203.1 654.3 241.1 650.5 183.4 640.5 251.4 635.6 189.1 635.6 242.8 651.6 262.9 636.0 210.2 638.7 256.9 631.5 255.3 634.2 228.0 642.5 199.9 646.1 219.0 649.4 181.6 648.2 246.8 659.0 251.4 655.3 198.0 658.2 209.1 666.3 227.4 662.2 209.3 638.3 191.4 662.0 178.3 649.2 178.2 662.1 245.2 652.6 196.2 644.1 195.5 640.2 258.1 641.1 191.4 653.7 238.5 648.6 181.8 638.1 210.2 632.5 228.2 645.4 228.5 636.1 232.4 640.2 211.6 659.0 195.8 663.4 212.8 664.8 220.1 665.2 260.2 640.2 198.4 647.5 221.3 658.6 246.8 655.4 208.3 659.1 194.3 647.3 245.3 647.9 188.2 656.1 221.9 663.3 229.7 665.5 228.9 633.8 242.2 656.2 185.2 640.1 232.6 641.2 207.0 665.7 216.1 665.1 247.5 644.8 217.1 640.4 245.6 640.0 203.9 665.6 234.1 660.3 242.0 646.8 207.2 649.8 254.1 652.1 239.8 647.5 225.5 667.5 256.6 636.2 208.6 664.9 179.1 649.0 182.5 642.4 218.5 630.2 218.7 644.7 218.3 644.1 197.4 634.5 244.3 629.7 191.1 649.2 245.0 644.7 249.2 640.6 231.3 651.5 204.8 637.4 194.9 637.8 241.0 650.5 210.5 630.6 242.7 653.8 237.7 640.3 221.9 654.6 222.7 662.9 233.3 638.0 246.3 627.6 246.5 655.6 241.9 650.4 206.6 653.6 195.1 656.4 233.7 661.5 251.4 656.4 247.3 659.3 254.4 656.1 197.0 649.6 194.0 653.1 199.9 630.8 263.5 642.8 214.1 637.4 254.4 640.9 197.0 656.6 222.3 630.6 230.0 646.1 250.2 634.8 243.1 653.7 250.2 645.6 216.5 646.0 225.8 660.8 183.6 665.4 237.0 646.0 238.5 638.9 224.7 636.6 193.3 663.2 226.9 650.2 211.8 646.9 212.5 653.0 208.3 655.9 199.7 665.8 204.6 667.8 202.1 668.2 187.9 653.8 181.3 645.3 259.3 642.4 248.4 654.8 258.8 651.5 201.3 654.1 232.9 650.3 205.5 646.5 186.9 668.5 242.3 636.1 209.4 636.3 213.7 653.8 180.9 648.3 243.5 646.2 224.6 626.1 247.9 629.3 187.5 665.3 193.6 663.8 238.6 656.4 179.5 667.4 255.7 639.5 206.0 638.8 192.9 660.6 228.4 649.0 231.5 646.7 180.4 657.8 189.9 650.8 208.4 664.5 207.4 653.1 192.0 652.2 232.6 643.2 198.8 652.0 251.4 631.6 252.5 646.2 179.3 664.3 205.2 645.7 226.2 632.8 211.2 634.4 247.6 639.3 247.2 647.3 243.4 639.1 181.3 639.8 240.7 657.9 228.6 638.5 230.5 661.6 252.4 648.0 216.8 633.3 199.8 632.4 221.9 631.2 260.6 649.7 213.4 669.4 181.6 645.1 182.5 642.0 184.9 634.6 230.2 660.3 184.9 653.9 215.0 627.9 190.4 664.0 230.6 663.0 196.5 632.0 232.8 647.2 207.6 658.2 190.2 653.6 182.6 665.3 228.8 649.4 238.8 631.0 211.0 629.8 204.3 641.1 190.5 643.2 252.7 647.9 229.3 633.6 192.1 632.7 216.4 640.1 202.1 663.6 243.0 658.7 217.2 643.2 241.8 646.7 228.8 641.1 232.0 659.4 192.0 633.9 234.2 644.8 258.0 642.3 240.3 647.9 229.2 640.7 251.8 633.4 233.9 640.6 237.7 632.2 190.9 638.3 220.8 661.1 222.4 653.4 212.0 639.1 228.1 627.5 255.6 634.2 203.2 639.5 225.4 641.3 184.0 654.6 245.5 626.3 257.0 642.5 214.5 632.1 208.1 654.8 230.6 665.3 240.5 658.7 238.0 635.1 186.1 641.8 212.8 667.4 241.2 636.5 246.6 652.1 232.2 659.4 208.9 646.2 249.6 655.2 198.9 644.7 234.5 630.9 209.5 664.5 193.1 651.9 204.8 642.4 237.9 658.9 200.7 635.3 183.1 640.6 186.6 657.9 234.6 656.8 184.2 650.7 250.0 654.5 181.4 667.0 179.6 664.7 216.3 643.1 211.8 642.7 190.1 660.8 199.5 650.6 240.0 660.7 215.7 644.5 255.4 632.7 186.1 667.8 232.6 647.2 223.9 635.9 246.5 644.3 257.6 640.9 189.0 658.5 235.7 636.9 238.6 629.1 234.0 658.9 234.9 636.1 191.0 650.3 242.5 640.1 213.2 647.6 242.7 645.2 213.4 632.9 262.2 640.6 215.4 659.8 243.8 656.0 242.2 655.5 223.8 647.6 234.9 645.6 189.9 636.9 249.0 648.5 180.7 660.0 200.9 630.8 232.3 634.1 211.0 653.5 228.3 634.7 214.1 659.8 201.0 663.8 186.8 662.5 237.8 659.8 213.9 655.5 243.5 640.4 218.4 642.0 217.5 654.3 181.2 637.7 237.5 627.5 200.6 629.0 187.7 659.6 194.5 667.8 184.8 641.6 235.3 663.6 221.3 640.0 210.9 632.3 234.9 655.4 189.0 652.4 242.6 644.7 246.0 640.1 185.4 641.8 185.1 656.8 249.5 631.9 226.8 651.3 187.0 657.4 218.1 630.1 194.2 632.9 238.1 638.3 188.2 642.4 260.8 635.3 212.6 634.8 204.0 642.3 240.7 656.4 235.9 641.1 249.9 631.3 243.5 661.2 227.2 637.6 259.9 637.1 202.9 628.4 241.7 637.5 218.3 664.4 232.5 638.7 228.4 646.6 178.1 668.4 185.1 656.9 243.0 630.8 199.0 647.4 216.5 656.3 235.6 653.7 182.9 661.5 249.8 634.2 245.7 636.4 181.6 651.2 256.8 639.7 197.3 660.2 205.3 668.3 183.3 650.3 243.3 657.3 212.9 646.2 183.7 644.4 201.4 643.7 235.3 649.4 221.8 644.7 235.2 641.4 228.1 635.8 231.3 651.4 228.5 633.5 254.4 644.6 208.0 652.1 227.7 648.7 204.3 662.9 233.2 636.4 255.0 649.3 205.3 643.1 203.1 630.7 178.0 651.5 200.1 632.7 205.3 650.6 223.7 665.3 239.8 647.7 241.3 647.2 219.3 650.9 240.1 633.5 211.2 634.0 226.5 640.6 192.1 635.3 219.9 663.2 234.6 656.3 204.0 654.5 192.7 656.3 206.7 656.3 219.9 664.4 223.6 653.4 181.8 660.8 201.4 630.8 210.9 634.7 191.1 635.4 216.8 658.0 250.6 646.0 178.5 666.9 182.9 637.2 224.6 650.3 231.4 659.7 213.8 637.5 214.9 657.5 253.4 642.5 240.2 646.9 242.8 656.7 252.1 640.4 217.0 661.3 205.7 647.9 246.6 633.8 228.4 632.8 258.4 653.7 249.7 631.9 225.0 630.3 249.7 631.2 239.4 658.2 211.8 652.2 232.1 657.2 195.9 624.1 197.6 627.6 193.2 626.6 248.1 625.5 245.0 624.5 189.1 630.3 249.0 624.8 243.6 611.2 235.4 619.1"/></g>
<line x1="174.72" y1="670.37" x2="264.31" y2="591.45" stroke="#e4505f" stroke-width="1.25" stroke-dasharray="2.9,1.4"/>
<line x1="177.81" y1="660.03" x2="264.31" y2="633.51" stroke="#111" stroke-width="1.85"/>
<rect x="170.4" y="587.1" width="98.7" height="86.4" fill="none" stroke="#444" stroke-width="1.3"/>
<path d="M177.81 673.5v2M216.43 673.5v2M255.04 673.5v2M170.4 667.65h-2M170.4 640.44h-2M170.4 613.22h-2" stroke="#333" stroke-width="0.8"/>
<text x="177.81" y="684" class="k">0</text>
<text x="216.43" y="684" class="k">250</text>
<text x="255.04" y="684" class="k">500</text>
<text x="167.3" y="670.95" class="k ke">0</text>
<text x="167.3" y="643.74" class="k ke">200</text>
<text x="167.3" y="616.52" class="k ke">400</text>
<text x="219.75" y="693" class="a">True Value</text>
<text x="149.4" y="630.3" class="a" transform="rotate(-90 149.4 630.3)">Predicted Value</text>
<rect x="173.1" y="590.5" width="57.7" height="25.6" rx="1" fill="#fff" fill-opacity="0.85" stroke="#8c8c8c" stroke-width="0.7"/>
<circle cx="181.8" cy="594.7" r="2.6" fill="#0f79c2" fill-opacity="0.66" stroke="#fff" stroke-width="0.5"/>
<line x1="175.6" y1="602.7" x2="187.4" y2="602.7" stroke="#e4505f" stroke-width="1.25" stroke-dasharray="2.9,1.4"/>
<line x1="175.6" y1="611.2" x2="187.4" y2="611.2" stroke="#111" stroke-width="1.85"/>
<text x="192.4" y="597" class="l">Data Points</text>
<text x="192.4" y="605.25" class="l">Reference Line</text>
<text x="192.4" y="613.5" class="l">Fitted Line</text>
<text x="495.1" y="574.3" class="t">Fold 10</text>
<text x="495.1" y="584.5" class="t">R² = 0.20, MAE = 41.55</text>
<clipPath id="cp34"><rect x="450.2" y="587.1" width="89.8" height="86.4"/></clipPath>
<path d="M454.64 587.1V673.5M490.45 587.1V673.5M526.25 587.1V673.5M450.2 669.23H540M450.2 634.78H540M450.2 600.33H540" stroke="#f0f0f0" stroke-width="0.6" fill="none"/>
<g clip-path="url(#cp34)"><path class="sc" d="M461.9 664.0 477.1 652.1 459.6 658.8 458.9 654.4 455.4 661.5 461.1 667.7 461.4 666.8 462.9 667.5 461.6 664.5 477.5 661.1 471.9 669.2 465.3 654.3 470.1 656.8 471.4 661.8 461.1 660.4 474.7 669.1 462.9 665.0 462.7 668.4 459.9 652.8 469.0 666.7 461.9 664.1 456.0 653.6 465.1 666.7 465.7 664.6 463.4 653.2 456.5 659.5 462.5 657.3 469.0 657.4 470.9 662.7 464.9 668.3 472.9 659.5 456.6 654.3 459.3 667.2 456.2 659.1 468.4 658.4 476.6 652.4 467.7 657.3 459.1 651.9 477.2 655.9 475.5 651.5 463.5 668.0 469.9 653.5 461.4 667.8 466.3 666.2 473.7 658.0 468.5 656.2 463.6 654.2 467.6 669.1 468.6 661.4 454.9 660.1 462.5 667.1 458.2 657.6 474.6 668.3 475.5 661.5 456.6 664.5 475.6 654.8 466.0 661.7 464.4 654.6 473.0 659.0 475.7 652.0 464.7 666.2 466.1 658.2 455.3 668.3 460.8 655.2 471.5 661.2 473.0 666.7 457.8 655.1 457.2 668.9 454.9 662.5 459.6 667.7 477.0 667.7 472.4 669.2 482.5 664.3 455.3 667.0 457.7 667.6 465.1 667.1 461.5 663.6 472.6 668.4 466.9 668.0 464.4 666.4 486.0 667.3 460.7 668.5 458.3 664.5 460.8 667.3 455.2 667.3 470.3 664.4 465.9 665.6 456.9 666.1 461.4 666.1 478.2 663.9 454.8 667.9 455.2 666.4 473.4 664.5 457.8 665.3 478.4 663.8 470.7 667.4 485.3 668.4 465.9 667.9 470.1 665.6 475.1 668.1 495.7 664.0 462.3 665.1 490.4 668.1 455.9 665.5 463.9 663.4 487.3 664.0 456.2 666.2 470.0 667.8 469.3 666.0 496.7 663.6 472.3 667.6 456.0 668.2 508.9 664.1 514.3 668.0 519.9 665.6 536.4 655.0"/></g>
<line x1="454.28" y1="669.57" x2="535.92" y2="591.03" stroke="#e4505f" stroke-width="1.25" stroke-dasharray="2.9,1.4"/>
<line x1="454.64" y1="667.44" x2="535.92" y2="651.01" stroke="#111" stroke-width="1.85"/>
<rect x="450.2" y="587.1" width="89.8" height="86.4" fill="none" stroke="#444" stroke-width="1.3"/>
<path d="M454.64 673.5v2M490.45 673.5v2M526.25 673.5v2M450.2 669.23h-2M450.2 634.78h-2M450.2 600.33h-2" stroke="#333" stroke-width="0.8"/>
<text x="454.64" y="684" class="k">0</text>
<text x="490.45" y="684" class="k">1000</text>
<text x="526.25" y="684" class="k">2000</text>
<text x="446.4" y="672.53" class="k ke">0</text>
<text x="446.4" y="638.08" class="k ke">1000</text>
<text x="446.4" y="603.63" class="k ke">2000</text>
<text x="495.1" y="693" class="a">True Value</text>
<text x="424" y="630.3" class="a" transform="rotate(-90 424 630.3)">Predicted Value</text>
<rect x="452.9" y="590.5" width="57.7" height="25.6" rx="1" fill="#fff" fill-opacity="0.85" stroke="#8c8c8c" stroke-width="0.7"/>
<circle cx="461.6" cy="594.7" r="2.6" fill="#0f79c2" fill-opacity="0.66" stroke="#fff" stroke-width="0.5"/>
<line x1="455.4" y1="602.7" x2="467.2" y2="602.7" stroke="#e4505f" stroke-width="1.25" stroke-dasharray="2.9,1.4"/>
<line x1="455.4" y1="611.2" x2="467.2" y2="611.2" stroke="#111" stroke-width="1.85"/>
<text x="472.2" y="597" class="l">Data Points</text>
<text x="472.2" y="605.25" class="l">Reference Line</text>
<text x="472.2" y="613.5" class="l">Fitted Line</text>
</svg></body></html>
